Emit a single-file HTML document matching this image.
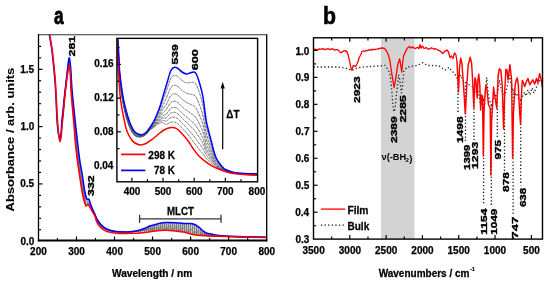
<!DOCTYPE html>
<html><head><meta charset="utf-8"><style>
html,body{margin:0;padding:0;background:#fff;}
svg{display:block;}
</style></head><body>
<svg width="550" height="284" viewBox="0 0 550 284">
<rect width="550" height="284" fill="#fff"/>
<defs><clipPath id="cm"><rect x="38.5" y="34.8" width="228.2" height="205.7"/></clipPath><clipPath id="ci"><rect x="116.9" y="38.35" width="140.70000000000002" height="143.45000000000002"/></clipPath><clipPath id="cb"><rect x="313.5" y="37.8" width="229.0" height="201.3"/></clipPath></defs>
<defs><pattern id="hv" width="2" height="2" patternUnits="userSpaceOnUse"><rect width="2" height="2" fill="#ececec"/><rect x="0" width="0.8" height="2" fill="#777"/></pattern></defs>
<path d="M138.00,230.54 L138.50,230.43 L139.00,230.30 L139.50,230.16 L140.00,230.01 L140.50,229.84 L141.00,229.67 L141.50,229.48 L142.00,229.29 L142.50,229.09 L143.00,228.89 L143.50,228.69 L144.00,228.50 L144.50,228.30 L145.00,228.10 L145.50,227.89 L146.00,227.68 L146.50,227.46 L147.00,227.24 L147.50,227.03 L148.00,226.81 L148.50,226.60 L149.00,226.40 L149.50,226.21 L150.00,226.03 L150.50,225.87 L151.00,225.71 L151.50,225.57 L152.00,225.44 L152.50,225.32 L153.00,225.19 L153.50,225.07 L154.00,224.94 L154.50,224.80 L155.00,224.65 L155.50,224.50 L156.00,224.33 L156.50,224.17 L157.00,224.01 L157.50,223.85 L158.00,223.70 L158.50,223.55 L159.00,223.42 L159.50,223.30 L160.00,223.20 L160.50,223.11 L161.00,223.03 L161.50,222.96 L162.00,222.89 L162.50,222.83 L163.00,222.78 L163.50,222.74 L164.00,222.71 L164.50,222.67 L165.00,222.65 L165.50,222.63 L166.00,222.61 L166.50,222.59 L167.00,222.58 L167.50,222.57 L168.00,222.56 L168.50,222.56 L169.00,222.56 L169.50,222.56 L170.00,222.56 L170.50,222.57 L171.00,222.58 L171.50,222.59 L172.00,222.60 L172.50,222.61 L173.00,222.62 L173.50,222.64 L174.00,222.66 L174.50,222.68 L175.00,222.70 L175.50,222.73 L176.00,222.76 L176.50,222.79 L177.00,222.83 L177.50,222.87 L178.00,222.91 L178.50,222.96 L179.00,223.00 L179.50,223.05 L180.00,223.10 L180.50,223.14 L181.00,223.19 L181.50,223.24 L182.00,223.28 L182.50,223.32 L183.00,223.36 L183.50,223.39 L184.00,223.42 L184.50,223.44 L185.00,223.46 L185.50,223.48 L186.00,223.49 L186.50,223.50 L187.00,223.51 L187.50,223.51 L188.00,223.52 L188.50,223.53 L189.00,223.55 L189.50,223.57 L190.00,223.60 L190.50,223.64 L191.00,223.68 L191.50,223.73 L192.00,223.78 L192.50,223.86 L193.00,223.94 L193.50,224.06 L194.00,224.20 L194.50,224.38 L195.00,224.60 L195.50,224.86 L196.00,225.16 L196.50,225.48 L197.00,225.80 L197.50,226.13 L198.00,226.47 L198.50,226.82 L199.00,227.20 L199.50,227.59 L200.00,228.00 L200.50,228.45 L201.00,228.94 L201.50,229.45 L202.00,229.94 L202.50,230.40 L203.00,230.80 L203.50,231.17 L204.00,231.52 L204.50,231.86 L205.00,232.17 L205.50,232.47 L206.00,232.74 L206.50,232.99 L207.00,233.20 L207.50,233.37 L208.00,233.49 L208.50,233.59 L209.00,233.66 L209.50,233.73 L210.00,233.79 L210.50,233.86 L211.00,233.94 L211.50,234.05 L212.00,234.17 L212.50,234.32 L213.00,234.46 L213.50,234.61 L214.00,234.76 L214.50,234.89 L215.00,235.00 L215.50,235.10 L216.00,235.21 L216.50,235.30 L217.00,235.38 L217.50,235.44 L218.00,235.50 L218.50,235.55 L219.00,235.59 L219.50,235.63 L220.00,235.68 L220.50,235.72 L221.00,235.75 L221.50,235.79 L222.00,235.83 L222.50,235.86 L223.00,235.90 L223.50,235.93 L224.00,235.97 L224.50,236.00 L225.00,236.03 L225.50,236.06 L226.00,236.09 L226.50,236.12 L227.00,236.15 L227.50,236.17 L228.00,236.20 L228.50,236.23 L229.00,236.25 L229.50,236.28 L230.00,236.30 L230.50,236.32 L231.00,236.34 L231.50,236.37 L232.00,236.39 L232.00,236.76 L231.50,236.74 L231.00,236.72 L230.50,236.71 L230.00,236.69 L229.50,236.67 L229.00,236.65 L228.50,236.64 L228.00,236.62 L227.50,236.60 L227.00,236.58 L226.50,236.57 L226.00,236.55 L225.50,236.53 L225.00,236.51 L224.50,236.49 L224.00,236.48 L223.50,236.46 L223.00,236.44 L222.50,236.42 L222.00,236.41 L221.50,236.39 L221.00,236.37 L220.50,236.35 L220.00,236.33 L219.50,236.32 L219.00,236.30 L218.50,236.28 L218.00,236.27 L217.50,236.25 L217.00,236.23 L216.50,236.22 L216.00,236.20 L215.50,236.19 L215.00,236.17 L214.50,236.16 L214.00,236.15 L213.50,236.13 L213.00,236.12 L212.50,236.10 L212.00,236.09 L211.50,236.07 L211.00,236.06 L210.50,236.04 L210.00,236.02 L209.50,236.01 L209.00,235.99 L208.50,235.97 L208.00,235.95 L207.50,235.93 L207.00,235.91 L206.50,235.88 L206.00,235.86 L205.50,235.83 L205.00,235.80 L204.50,235.77 L204.00,235.74 L203.50,235.71 L203.00,235.68 L202.50,235.65 L202.00,235.62 L201.50,235.59 L201.00,235.56 L200.50,235.53 L200.00,235.49 L199.50,235.45 L199.00,235.41 L198.50,235.37 L198.00,235.33 L197.50,235.28 L197.00,235.22 L196.50,235.16 L196.00,235.10 L195.50,235.03 L195.00,234.96 L194.50,234.88 L194.00,234.80 L193.50,234.71 L193.00,234.61 L192.50,234.50 L192.00,234.38 L191.50,234.25 L191.00,234.12 L190.50,233.99 L190.00,233.85 L189.50,233.70 L189.00,233.56 L188.50,233.41 L188.00,233.26 L187.50,233.12 L187.00,232.97 L186.50,232.83 L186.00,232.69 L185.50,232.55 L185.00,232.42 L184.50,232.30 L184.00,232.18 L183.50,232.08 L183.00,231.98 L182.50,231.89 L182.00,231.81 L181.50,231.73 L181.00,231.66 L180.50,231.59 L180.00,231.52 L179.50,231.46 L179.00,231.40 L178.50,231.35 L178.00,231.30 L177.50,231.25 L177.00,231.20 L176.50,231.15 L176.00,231.10 L175.50,231.05 L175.00,231.00 L174.50,230.95 L174.00,230.90 L173.50,230.85 L173.00,230.80 L172.50,230.75 L172.00,230.71 L171.50,230.66 L171.00,230.62 L170.50,230.57 L170.00,230.53 L169.50,230.49 L169.00,230.46 L168.50,230.42 L168.00,230.39 L167.50,230.36 L167.00,230.33 L166.50,230.31 L166.00,230.29 L165.50,230.28 L165.00,230.27 L164.50,230.26 L164.00,230.26 L163.50,230.27 L163.00,230.28 L162.50,230.30 L162.00,230.33 L161.50,230.37 L161.00,230.41 L160.50,230.45 L160.00,230.50 L159.50,230.55 L159.00,230.60 L158.50,230.66 L158.00,230.72 L157.50,230.78 L157.00,230.85 L156.50,230.91 L156.00,230.98 L155.50,231.05 L155.00,231.11 L154.50,231.18 L154.00,231.25 L153.50,231.32 L153.00,231.39 L152.50,231.46 L152.00,231.53 L151.50,231.60 L151.00,231.67 L150.50,231.73 L150.00,231.80 L149.50,231.87 L149.00,231.93 L148.50,232.01 L148.00,232.08 L147.50,232.15 L147.00,232.22 L146.50,232.30 L146.00,232.37 L145.50,232.45 L145.00,232.52 L144.50,232.59 L144.00,232.66 L143.50,232.73 L143.00,232.79 L142.50,232.85 L142.00,232.91 L141.50,232.96 L141.00,233.01 L140.50,233.06 L140.00,233.10 L139.50,233.13 L139.00,233.17 L138.50,233.19 L138.00,233.21 Z" fill="url(#hv)"/>
<g clip-path="url(#cm)" fill="none">
<path d="M62.00,120.97 L62.50,116.17 L63.00,111.66 L63.50,106.67 L64.00,101.53 L64.50,96.51 L65.00,91.83 L65.50,87.39 L66.00,83.05 L66.50,78.68 L67.00,74.27 L67.50,69.97 L68.00,66.00 L68.50,61.84 L69.00,58.84 L69.50,59.07 L70.00,62.10 L70.50,67.63 L71.00,75.68 L71.50,84.21 L72.00,91.71 L72.50,97.42 L73.00,102.19 L73.50,106.93 L74.00,111.89 L74.50,116.88 L75.00,121.88 L75.50,126.75 L76.00,131.43 L76.50,135.98 L77.00,140.37 L77.50,144.63 L78.00,148.86 L78.50,153.05 L79.00,157.06 L79.50,160.80 L80.00,164.18 L80.50,167.20 L81.00,170.04 L81.50,172.80 L82.00,175.62 L82.50,178.65 L83.00,182.00 L83.50,185.47 L84.00,188.78 L84.50,191.64 L85.00,194.05 L85.50,196.16 L86.00,197.91 L86.50,199.18 L87.00,199.88 L87.50,200.02 L88.00,199.87 L88.50,199.80 L89.00,200.19 L89.50,201.40 L90.00,203.08 L90.50,204.41 L91.00,205.70 L91.50,206.96 L92.00,208.19 L92.50,209.36 L93.00,210.48 L93.50,211.56 L94.00,212.63 L94.50,213.69 L95.00,214.77 L95.50,215.92 L96.00,217.18 L96.50,218.42 L97.00,219.51 L97.50,220.42 L98.00,221.21 L98.50,221.92 L99.00,222.57 L99.50,223.17 L100.00,223.75 L100.50,224.30 L101.00,224.85 L101.50,225.40 L102.00,225.92 L102.50,226.41 L103.00,226.85 L103.50,227.26 L104.00,227.61 L104.50,227.93 L105.00,228.23 L105.50,228.52 L106.00,228.78 L106.50,229.03 L107.00,229.26 L107.50,229.48 L108.00,229.67 L108.50,229.86 L109.00,230.03 L109.50,230.19 L110.00,230.34 L110.50,230.48 L111.00,230.61 L111.50,230.73 L112.00,230.85 L112.50,230.96 L113.00,231.06 L113.50,231.16 L114.00,231.25 L114.50,231.33 L115.00,231.41 L115.50,231.48 L116.00,231.55 L116.50,231.61 L117.00,231.67 L117.50,231.71 L118.00,231.75 L118.50,231.79 L119.00,231.82 L119.50,231.85 L120.00,231.87 L120.50,231.89 L121.00,231.90 L121.50,231.92 L122.00,231.93 L122.50,231.94 L123.00,231.94 L123.50,231.95 L124.00,231.96 L124.50,231.96 L125.00,231.97 L125.50,231.97 L126.00,231.96 L126.50,231.96 L127.00,231.94 L127.50,231.93 L128.00,231.90 L128.50,231.87 L129.00,231.84 L129.50,231.80 L130.00,231.75 L130.50,231.71 L131.00,231.66 L131.50,231.60 L132.00,231.55 L132.50,231.49 L133.00,231.43 L133.50,231.37 L134.00,231.30 L134.50,231.23 L135.00,231.16 L135.50,231.08 L136.00,231.01 L136.50,230.92 L137.00,230.83 L137.50,230.74 L138.00,230.63 L138.50,230.53 L139.00,230.41 L139.50,230.29 L140.00,230.15 L140.50,230.00 L141.00,229.84 L141.50,229.67 L142.00,229.50 L142.50,229.32 L143.00,229.14 L143.50,228.96 L144.00,228.79 L144.50,228.62 L145.00,228.43 L145.50,228.25 L146.00,228.06 L146.50,227.87 L147.00,227.68 L147.50,227.49 L148.00,227.30 L148.50,227.12 L149.00,226.95 L149.50,226.79 L150.00,226.64 L150.50,226.50 L151.00,226.38 L151.50,226.26 L152.00,226.16 L152.50,226.06 L153.00,225.96 L153.50,225.86 L154.00,225.75 L154.50,225.64 L155.00,225.52 L155.50,225.38 L156.00,225.23 L156.50,225.08 L157.00,224.93 L157.50,224.78 L158.00,224.64 L158.50,224.51 L159.00,224.39 L159.50,224.28 L160.00,224.19 L160.50,224.10 L161.00,224.03 L161.50,223.96 L162.00,223.90 L162.50,223.84 L163.00,223.80 L163.50,223.76 L164.00,223.73 L164.50,223.70 L165.00,223.68 L165.50,223.66 L166.00,223.64 L166.50,223.63 L167.00,223.63 L167.50,223.62 L168.00,223.62 L168.50,223.62 L169.00,223.63 L169.50,223.63 L170.00,223.64 L170.50,223.65 L171.00,223.66 L171.50,223.68 L172.00,223.69 L172.50,223.71 L173.00,223.73 L173.50,223.75 L174.00,223.77 L174.50,223.79 L175.00,223.82 L175.50,223.85 L176.00,223.88 L176.50,223.92 L177.00,223.96 L177.50,224.00 L178.00,224.04 L178.50,224.09 L179.00,224.14 L179.50,224.18 L180.00,224.23 L180.50,224.28 L181.00,224.33 L181.50,224.38 L182.00,224.43 L182.50,224.48 L183.00,224.52 L183.50,224.57 L184.00,224.61 L184.50,224.64 L185.00,224.67 L185.50,224.70 L186.00,224.73 L186.50,224.76 L187.00,224.78 L187.50,224.81 L188.00,224.84 L188.50,224.86 L189.00,224.90 L189.50,224.94 L190.00,224.98 L190.50,225.04 L191.00,225.09 L191.50,225.15 L192.00,225.21 L192.50,225.29 L193.00,225.38 L193.50,225.50 L194.00,225.63 L194.50,225.80 L195.00,226.00 L195.50,226.24 L196.00,226.50 L196.50,226.79 L197.00,227.07 L197.50,227.36 L198.00,227.66 L198.50,227.98 L199.00,228.31 L199.50,228.65 L200.00,229.01 L200.50,229.40 L201.00,229.83 L201.50,230.28 L202.00,230.71 L202.50,231.11 L203.00,231.46 L203.50,231.78 L204.00,232.09 L204.50,232.38 L205.00,232.66 L205.50,232.93 L206.00,233.16 L206.50,233.38 L207.00,233.57 L207.50,233.71 L208.00,233.82 L208.50,233.91 L209.00,233.98 L209.50,234.04 L210.00,234.09 L210.50,234.15 L211.00,234.22 L211.50,234.32 L212.00,234.43 L212.50,234.56 L213.00,234.69 L213.50,234.82 L214.00,234.94 L214.50,235.06 L215.00,235.16 L215.50,235.25 L216.00,235.34 L216.50,235.43 L217.00,235.49 L217.50,235.55 L218.00,235.60 L218.50,235.65 L219.00,235.69 L219.50,235.73 L220.00,235.76 L220.50,235.80 L221.00,235.84 L221.50,235.87 L222.00,235.91 L222.50,235.94 L223.00,235.97 L223.50,236.00 L224.00,236.03 L224.50,236.07 L225.00,236.09 L225.50,236.12 L226.00,236.15 L226.50,236.18 L227.00,236.21 L227.50,236.23 L228.00,236.26 L228.50,236.28 L229.00,236.31 L229.50,236.33 L230.00,236.35 L230.50,236.37 L231.00,236.40 L231.50,236.42 L232.00,236.44 L232.50,236.46 L233.00,236.48 L233.50,236.49 L234.00,236.51 L234.50,236.53 L235.00,236.55 L235.50,236.57 L236.00,236.58 L236.50,236.60 L237.00,236.62 L237.50,236.63 L238.00,236.65 L238.50,236.66 L239.00,236.68 L239.50,236.69 L240.00,236.71 L240.50,236.72 L241.00,236.73 L241.50,236.75 L242.00,236.76 L242.50,236.77 L243.00,236.79 L243.50,236.80 L244.00,236.81 L244.50,236.83 L245.00,236.84 L245.50,236.85 L246.00,236.86 L246.50,236.87 L247.00,236.88 L247.50,236.90 L248.00,236.91 L248.50,236.92 L249.00,236.93 L249.50,236.94 L250.00,236.95 L250.50,236.96 L251.00,236.97 L251.50,236.98 L252.00,236.99 L252.50,237.00 L253.00,237.01 L253.50,237.02 L254.00,237.03 L254.50,237.04 L255.00,237.05 L255.50,237.06 L256.00,237.06 L256.50,237.07 L257.00,237.08 L257.50,237.09 L258.00,237.10 L258.50,237.11 L259.00,237.12 L259.50,237.13 L260.00,237.14 L260.50,237.15 L261.00,237.15 L261.50,237.16 L262.00,237.17 L262.50,237.18 L263.00,237.19 L263.50,237.20 L264.00,237.21 L264.50,237.22 L265.00,237.23 L265.50,237.24 L266.00,237.24" stroke="#6d6d6d" stroke-width="0.7" stroke-dasharray="2 0.8"/>
<path d="M62.00,122.15 L62.50,117.11 L63.00,112.47 L63.50,107.49 L64.00,102.29 L64.50,97.19 L65.00,92.43 L65.50,87.94 L66.00,83.57 L66.50,79.23 L67.00,74.92 L67.50,70.78 L68.00,66.97 L68.50,63.04 L69.00,60.17 L69.50,60.47 L70.00,63.54 L70.50,69.61 L71.00,78.38 L71.50,86.60 L72.00,93.78 L72.50,99.49 L73.00,104.39 L73.50,109.27 L74.00,114.36 L74.50,119.59 L75.00,124.89 L75.50,129.98 L76.00,134.75 L76.50,139.29 L77.00,143.63 L77.50,147.81 L78.00,151.91 L78.50,155.94 L79.00,159.82 L79.50,163.48 L80.00,166.85 L80.50,169.95 L81.00,172.87 L81.50,175.71 L82.00,178.54 L82.50,181.50 L83.00,184.67 L83.50,187.90 L84.00,190.97 L84.50,193.61 L85.00,195.86 L85.50,197.81 L86.00,199.40 L86.50,200.44 L87.00,200.88 L87.50,200.92 L88.00,200.75 L88.50,200.76 L89.00,201.22 L89.50,202.36 L90.00,203.88 L90.50,205.13 L91.00,206.34 L91.50,207.54 L92.00,208.69 L92.50,209.80 L93.00,210.86 L93.50,211.90 L94.00,212.93 L94.50,213.97 L95.00,215.05 L95.50,216.25 L96.00,217.61 L96.50,218.94 L97.00,220.05 L97.50,220.94 L98.00,221.70 L98.50,222.38 L99.00,223.00 L99.50,223.58 L100.00,224.12 L100.50,224.64 L101.00,225.16 L101.50,225.67 L102.00,226.16 L102.50,226.61 L103.00,227.04 L103.50,227.41 L104.00,227.75 L104.50,228.05 L105.00,228.32 L105.50,228.61 L106.00,228.88 L106.50,229.13 L107.00,229.35 L107.50,229.56 L108.00,229.76 L108.50,229.94 L109.00,230.11 L109.50,230.27 L110.00,230.42 L110.50,230.55 L111.00,230.68 L111.50,230.80 L112.00,230.92 L112.50,231.03 L113.00,231.13 L113.50,231.22 L114.00,231.31 L114.50,231.40 L115.00,231.48 L115.50,231.55 L116.00,231.62 L116.50,231.68 L117.00,231.73 L117.50,231.78 L118.00,231.82 L118.50,231.85 L119.00,231.89 L119.50,231.91 L120.00,231.93 L120.50,231.95 L121.00,231.97 L121.50,231.98 L122.00,231.99 L122.50,232.00 L123.00,232.01 L123.50,232.02 L124.00,232.02 L124.50,232.03 L125.00,232.03 L125.50,232.03 L126.00,232.02 L126.50,232.02 L127.00,232.00 L127.50,231.99 L128.00,231.96 L128.50,231.93 L129.00,231.90 L129.50,231.86 L130.00,231.82 L130.50,231.77 L131.00,231.72 L131.50,231.67 L132.00,231.62 L132.50,231.57 L133.00,231.51 L133.50,231.45 L134.00,231.38 L134.50,231.32 L135.00,231.25 L135.50,231.18 L136.00,231.10 L136.50,231.02 L137.00,230.93 L137.50,230.84 L138.00,230.74 L138.50,230.65 L139.00,230.55 L139.50,230.44 L140.00,230.32 L140.50,230.19 L141.00,230.05 L141.50,229.90 L142.00,229.75 L142.50,229.59 L143.00,229.44 L143.50,229.29 L144.00,229.14 L144.50,228.99 L145.00,228.84 L145.50,228.68 L146.00,228.52 L146.50,228.36 L147.00,228.20 L147.50,228.05 L148.00,227.90 L148.50,227.75 L149.00,227.61 L149.50,227.49 L150.00,227.37 L150.50,227.27 L151.00,227.18 L151.50,227.09 L152.00,227.02 L152.50,226.95 L153.00,226.88 L153.50,226.81 L154.00,226.74 L154.50,226.66 L155.00,226.58 L155.50,226.45 L156.00,226.31 L156.50,226.18 L157.00,226.04 L157.50,225.91 L158.00,225.79 L158.50,225.67 L159.00,225.56 L159.50,225.46 L160.00,225.38 L160.50,225.30 L161.00,225.23 L161.50,225.17 L162.00,225.11 L162.50,225.06 L163.00,225.02 L163.50,224.98 L164.00,224.96 L164.50,224.94 L165.00,224.92 L165.50,224.91 L166.00,224.90 L166.50,224.89 L167.00,224.89 L167.50,224.89 L168.00,224.90 L168.50,224.90 L169.00,224.91 L169.50,224.92 L170.00,224.94 L170.50,224.95 L171.00,224.97 L171.50,224.99 L172.00,225.01 L172.50,225.04 L173.00,225.06 L173.50,225.09 L174.00,225.11 L174.50,225.14 L175.00,225.17 L175.50,225.21 L176.00,225.24 L176.50,225.28 L177.00,225.32 L177.50,225.36 L178.00,225.41 L178.50,225.46 L179.00,225.51 L179.50,225.56 L180.00,225.61 L180.50,225.66 L181.00,225.71 L181.50,225.77 L182.00,225.82 L182.50,225.88 L183.00,225.93 L183.50,225.98 L184.00,226.03 L184.50,226.08 L185.00,226.13 L185.50,226.18 L186.00,226.23 L186.50,226.28 L187.00,226.33 L187.50,226.37 L188.00,226.42 L188.50,226.48 L189.00,226.53 L189.50,226.59 L190.00,226.65 L190.50,226.72 L191.00,226.79 L191.50,226.87 L192.00,226.94 L192.50,227.03 L193.00,227.12 L193.50,227.23 L194.00,227.36 L194.50,227.51 L195.00,227.69 L195.50,227.90 L196.00,228.12 L196.50,228.37 L197.00,228.61 L197.50,228.85 L198.00,229.11 L198.50,229.37 L199.00,229.65 L199.50,229.93 L200.00,230.23 L200.50,230.56 L201.00,230.91 L201.50,231.28 L202.00,231.64 L202.50,231.97 L203.00,232.26 L203.50,232.52 L204.00,232.78 L204.50,233.02 L205.00,233.26 L205.50,233.47 L206.00,233.67 L206.50,233.85 L207.00,234.01 L207.50,234.13 L208.00,234.22 L208.50,234.30 L209.00,234.36 L209.50,234.41 L210.00,234.46 L210.50,234.51 L211.00,234.57 L211.50,234.65 L212.00,234.74 L212.50,234.85 L213.00,234.96 L213.50,235.07 L214.00,235.17 L214.50,235.27 L215.00,235.35 L215.50,235.43 L216.00,235.51 L216.50,235.58 L217.00,235.63 L217.50,235.68 L218.00,235.73 L218.50,235.77 L219.00,235.80 L219.50,235.84 L220.00,235.87 L220.50,235.91 L221.00,235.94 L221.50,235.97 L222.00,236.00 L222.50,236.03 L223.00,236.06 L223.50,236.09 L224.00,236.12 L224.50,236.15 L225.00,236.17 L225.50,236.20 L226.00,236.23 L226.50,236.25 L227.00,236.28 L227.50,236.30 L228.00,236.33 L228.50,236.35 L229.00,236.37 L229.50,236.39 L230.00,236.42 L230.50,236.44 L231.00,236.46 L231.50,236.48 L232.00,236.50 L232.50,236.52 L233.00,236.53 L233.50,236.55 L234.00,236.57 L234.50,236.59 L235.00,236.61 L235.50,236.62 L236.00,236.64 L236.50,236.66 L237.00,236.67 L237.50,236.69 L238.00,236.70 L238.50,236.72 L239.00,236.73 L239.50,236.75 L240.00,236.76 L240.50,236.78 L241.00,236.79 L241.50,236.80 L242.00,236.82 L242.50,236.83 L243.00,236.84 L243.50,236.85 L244.00,236.87 L244.50,236.88 L245.00,236.89 L245.50,236.90 L246.00,236.92 L246.50,236.93 L247.00,236.94 L247.50,236.95 L248.00,236.96 L248.50,236.97 L249.00,236.98 L249.50,236.99 L250.00,237.00 L250.50,237.01 L251.00,237.02 L251.50,237.03 L252.00,237.04 L252.50,237.05 L253.00,237.06 L253.50,237.07 L254.00,237.08 L254.50,237.09 L255.00,237.10 L255.50,237.11 L256.00,237.12 L256.50,237.13 L257.00,237.14 L257.50,237.15 L258.00,237.16 L258.50,237.17 L259.00,237.18 L259.50,237.19 L260.00,237.20 L260.50,237.21 L261.00,237.22 L261.50,237.23 L262.00,237.23 L262.50,237.24 L263.00,237.25 L263.50,237.26 L264.00,237.27 L264.50,237.28 L265.00,237.29 L265.50,237.30 L266.00,237.31" stroke="#6d6d6d" stroke-width="0.7" stroke-dasharray="2 0.8"/>
<path d="M62.00,123.16 L62.50,117.91 L63.00,113.16 L63.50,108.19 L64.00,102.95 L64.50,97.78 L65.00,92.95 L65.50,88.41 L66.00,84.02 L66.50,79.71 L67.00,75.49 L67.50,71.49 L68.00,67.81 L68.50,64.08 L69.00,61.32 L69.50,61.68 L70.00,64.78 L70.50,71.31 L71.00,80.71 L71.50,88.68 L72.00,95.57 L72.50,101.28 L73.00,106.29 L73.50,111.29 L74.00,116.49 L74.50,121.94 L75.00,127.49 L75.50,132.78 L76.00,137.62 L76.50,142.16 L77.00,146.45 L77.50,150.56 L78.00,154.55 L78.50,158.45 L79.00,162.21 L79.50,165.79 L80.00,169.17 L80.50,172.32 L81.00,175.32 L81.50,178.23 L82.00,181.07 L82.50,183.96 L83.00,186.99 L83.50,190.01 L84.00,192.86 L84.50,195.33 L85.00,197.43 L85.50,199.24 L86.00,200.69 L86.50,201.53 L87.00,201.74 L87.50,201.70 L88.00,201.51 L88.50,201.59 L89.00,202.11 L89.50,203.19 L90.00,204.58 L90.50,205.75 L91.00,206.90 L91.50,208.03 L92.00,209.12 L92.50,210.18 L93.00,211.19 L93.50,212.19 L94.00,213.19 L94.50,214.21 L95.00,215.29 L95.50,216.53 L96.00,217.99 L96.50,219.39 L97.00,220.51 L97.50,221.38 L98.00,222.12 L98.50,222.78 L99.00,223.38 L99.50,223.93 L100.00,224.45 L100.50,224.94 L101.00,225.42 L101.50,225.90 L102.00,226.36 L102.50,226.79 L103.00,227.19 L103.50,227.55 L104.00,227.87 L104.50,228.15 L105.00,228.41 L105.50,228.69 L106.00,228.96 L106.50,229.21 L107.00,229.43 L107.50,229.64 L108.00,229.83 L108.50,230.01 L109.00,230.18 L109.50,230.33 L110.00,230.48 L110.50,230.62 L111.00,230.74 L111.50,230.86 L112.00,230.98 L112.50,231.08 L113.00,231.18 L113.50,231.28 L114.00,231.37 L114.50,231.45 L115.00,231.53 L115.50,231.60 L116.00,231.67 L116.50,231.73 L117.00,231.79 L117.50,231.83 L118.00,231.88 L118.50,231.91 L119.00,231.94 L119.50,231.97 L120.00,231.99 L120.50,232.01 L121.00,232.03 L121.50,232.04 L122.00,232.05 L122.50,232.06 L123.00,232.07 L123.50,232.07 L124.00,232.08 L124.50,232.08 L125.00,232.08 L125.50,232.08 L126.00,232.08 L126.50,232.07 L127.00,232.06 L127.50,232.04 L128.00,232.02 L128.50,231.99 L129.00,231.95 L129.50,231.92 L130.00,231.88 L130.50,231.83 L131.00,231.78 L131.50,231.74 L132.00,231.68 L132.50,231.63 L133.00,231.57 L133.50,231.52 L134.00,231.46 L134.50,231.39 L135.00,231.33 L135.50,231.26 L136.00,231.18 L136.50,231.11 L137.00,231.02 L137.50,230.93 L138.00,230.84 L138.50,230.76 L139.00,230.67 L139.50,230.57 L140.00,230.47 L140.50,230.35 L141.00,230.23 L141.50,230.10 L142.00,229.97 L142.50,229.83 L143.00,229.70 L143.50,229.57 L144.00,229.44 L144.50,229.31 L145.00,229.19 L145.50,229.05 L146.00,228.92 L146.50,228.79 L147.00,228.66 L147.50,228.53 L148.00,228.41 L148.50,228.29 L149.00,228.19 L149.50,228.09 L150.00,228.00 L150.50,227.93 L151.00,227.87 L151.50,227.81 L152.00,227.76 L152.50,227.72 L153.00,227.67 L153.50,227.63 L154.00,227.59 L154.50,227.54 L155.00,227.49 L155.50,227.37 L156.00,227.25 L156.50,227.13 L157.00,227.01 L157.50,226.89 L158.00,226.78 L158.50,226.67 L159.00,226.57 L159.50,226.48 L160.00,226.40 L160.50,226.33 L161.00,226.27 L161.50,226.21 L162.00,226.16 L162.50,226.11 L163.00,226.08 L163.50,226.04 L164.00,226.02 L164.50,226.00 L165.00,225.99 L165.50,225.99 L166.00,225.98 L166.50,225.98 L167.00,225.98 L167.50,225.99 L168.00,226.00 L168.50,226.01 L169.00,226.03 L169.50,226.04 L170.00,226.06 L170.50,226.08 L171.00,226.11 L171.50,226.13 L172.00,226.16 L172.50,226.18 L173.00,226.21 L173.50,226.24 L174.00,226.28 L174.50,226.31 L175.00,226.34 L175.50,226.38 L176.00,226.42 L176.50,226.46 L177.00,226.50 L177.50,226.55 L178.00,226.59 L178.50,226.64 L179.00,226.69 L179.50,226.74 L180.00,226.79 L180.50,226.85 L181.00,226.91 L181.50,226.96 L182.00,227.02 L182.50,227.09 L183.00,227.15 L183.50,227.21 L184.00,227.27 L184.50,227.33 L185.00,227.40 L185.50,227.46 L186.00,227.53 L186.50,227.59 L187.00,227.66 L187.50,227.73 L188.00,227.80 L188.50,227.87 L189.00,227.94 L189.50,228.02 L190.00,228.10 L190.50,228.18 L191.00,228.27 L191.50,228.35 L192.00,228.44 L192.50,228.53 L193.00,228.63 L193.50,228.73 L194.00,228.85 L194.50,228.99 L195.00,229.15 L195.50,229.33 L196.00,229.53 L196.50,229.73 L197.00,229.94 L197.50,230.14 L198.00,230.36 L198.50,230.58 L199.00,230.81 L199.50,231.04 L200.00,231.29 L200.50,231.56 L201.00,231.85 L201.50,232.15 L202.00,232.44 L202.50,232.71 L203.00,232.94 L203.50,233.16 L204.00,233.37 L204.50,233.57 L205.00,233.77 L205.50,233.95 L206.00,234.11 L206.50,234.26 L207.00,234.39 L207.50,234.49 L208.00,234.57 L208.50,234.63 L209.00,234.69 L209.50,234.73 L210.00,234.77 L210.50,234.82 L211.00,234.87 L211.50,234.94 L212.00,235.01 L212.50,235.10 L213.00,235.19 L213.50,235.28 L214.00,235.37 L214.50,235.45 L215.00,235.52 L215.50,235.58 L216.00,235.65 L216.50,235.70 L217.00,235.75 L217.50,235.80 L218.00,235.83 L218.50,235.87 L219.00,235.90 L219.50,235.93 L220.00,235.96 L220.50,235.99 L221.00,236.02 L221.50,236.05 L222.00,236.08 L222.50,236.11 L223.00,236.14 L223.50,236.16 L224.00,236.19 L224.50,236.22 L225.00,236.24 L225.50,236.27 L226.00,236.29 L226.50,236.32 L227.00,236.34 L227.50,236.36 L228.00,236.38 L228.50,236.41 L229.00,236.43 L229.50,236.45 L230.00,236.47 L230.50,236.49 L231.00,236.51 L231.50,236.53 L232.00,236.55 L232.50,236.57 L233.00,236.59 L233.50,236.60 L234.00,236.62 L234.50,236.64 L235.00,236.66 L235.50,236.67 L236.00,236.69 L236.50,236.70 L237.00,236.72 L237.50,236.74 L238.00,236.75 L238.50,236.77 L239.00,236.78 L239.50,236.79 L240.00,236.81 L240.50,236.82 L241.00,236.84 L241.50,236.85 L242.00,236.86 L242.50,236.88 L243.00,236.89 L243.50,236.90 L244.00,236.91 L244.50,236.93 L245.00,236.94 L245.50,236.95 L246.00,236.96 L246.50,236.98 L247.00,236.99 L247.50,237.00 L248.00,237.01 L248.50,237.02 L249.00,237.03 L249.50,237.04 L250.00,237.05 L250.50,237.06 L251.00,237.07 L251.50,237.08 L252.00,237.09 L252.50,237.10 L253.00,237.11 L253.50,237.12 L254.00,237.13 L254.50,237.14 L255.00,237.15 L255.50,237.16 L256.00,237.17 L256.50,237.18 L257.00,237.19 L257.50,237.20 L258.00,237.21 L258.50,237.22 L259.00,237.23 L259.50,237.24 L260.00,237.25 L260.50,237.26 L261.00,237.27 L261.50,237.28 L262.00,237.29 L262.50,237.30 L263.00,237.31 L263.50,237.32 L264.00,237.33 L264.50,237.34 L265.00,237.35 L265.50,237.36 L266.00,237.37" stroke="#6d6d6d" stroke-width="0.7" stroke-dasharray="2 0.8"/>
<path d="M62.00,124.04 L62.50,118.61 L63.00,113.76 L63.50,108.80 L64.00,103.52 L64.50,98.29 L65.00,93.39 L65.50,88.82 L66.00,84.41 L66.50,80.12 L67.00,75.98 L67.50,72.10 L68.00,68.54 L68.50,64.98 L69.00,62.31 L69.50,62.73 L70.00,65.85 L70.50,72.79 L71.00,82.73 L71.50,90.47 L72.00,97.12 L72.50,102.83 L73.00,107.94 L73.50,113.04 L74.00,118.34 L74.50,123.97 L75.00,129.74 L75.50,135.20 L76.00,140.11 L76.50,144.64 L77.00,148.89 L77.50,152.94 L78.00,156.83 L78.50,160.61 L79.00,164.27 L79.50,167.79 L80.00,171.17 L80.50,174.37 L81.00,177.45 L81.50,180.40 L82.00,183.25 L82.50,186.10 L83.00,188.99 L83.50,191.84 L84.00,194.49 L84.50,196.81 L85.00,198.78 L85.50,200.48 L86.00,201.81 L86.50,202.47 L87.00,202.49 L87.50,202.37 L88.00,202.17 L88.50,202.31 L89.00,202.88 L89.50,203.91 L90.00,205.18 L90.50,206.29 L91.00,207.38 L91.50,208.46 L92.00,209.50 L92.50,210.50 L93.00,211.48 L93.50,212.44 L94.00,213.42 L94.50,214.42 L95.00,215.49 L95.50,216.77 L96.00,218.32 L96.50,219.78 L97.00,220.91 L97.50,221.76 L98.00,222.49 L98.50,223.12 L99.00,223.71 L99.50,224.24 L100.00,224.73 L100.50,225.20 L101.00,225.65 L101.50,226.10 L102.00,226.54 L102.50,226.95 L103.00,227.33 L103.50,227.67 L104.00,227.97 L104.50,228.24 L105.00,228.48 L105.50,228.76 L106.00,229.03 L106.50,229.27 L107.00,229.50 L107.50,229.70 L108.00,229.90 L108.50,230.07 L109.00,230.24 L109.50,230.39 L110.00,230.54 L110.50,230.67 L111.00,230.80 L111.50,230.92 L112.00,231.03 L112.50,231.13 L113.00,231.23 L113.50,231.33 L114.00,231.42 L114.50,231.50 L115.00,231.58 L115.50,231.65 L116.00,231.72 L116.50,231.78 L117.00,231.83 L117.50,231.88 L118.00,231.92 L118.50,231.96 L119.00,231.99 L119.50,232.02 L120.00,232.04 L120.50,232.06 L121.00,232.08 L121.50,232.09 L122.00,232.10 L122.50,232.11 L123.00,232.11 L123.50,232.12 L124.00,232.13 L124.50,232.13 L125.00,232.13 L125.50,232.13 L126.00,232.12 L126.50,232.12 L127.00,232.10 L127.50,232.08 L128.00,232.06 L128.50,232.03 L129.00,232.00 L129.50,231.96 L130.00,231.92 L130.50,231.88 L131.00,231.84 L131.50,231.79 L132.00,231.74 L132.50,231.69 L133.00,231.63 L133.50,231.58 L134.00,231.52 L134.50,231.46 L135.00,231.39 L135.50,231.33 L136.00,231.25 L136.50,231.18 L137.00,231.10 L137.50,231.01 L138.00,230.92 L138.50,230.85 L139.00,230.77 L139.50,230.69 L140.00,230.59 L140.50,230.49 L141.00,230.38 L141.50,230.27 L142.00,230.15 L142.50,230.04 L143.00,229.92 L143.50,229.81 L144.00,229.70 L144.50,229.60 L145.00,229.49 L145.50,229.38 L146.00,229.27 L146.50,229.16 L147.00,229.05 L147.50,228.95 L148.00,228.85 L148.50,228.76 L149.00,228.68 L149.50,228.61 L150.00,228.55 L150.50,228.50 L151.00,228.46 L151.50,228.43 L152.00,228.41 L152.50,228.38 L153.00,228.36 L153.50,228.34 L154.00,228.32 L154.50,228.30 L155.00,228.28 L155.50,228.17 L156.00,228.06 L156.50,227.95 L157.00,227.84 L157.50,227.74 L158.00,227.64 L158.50,227.54 L159.00,227.45 L159.50,227.37 L160.00,227.30 L160.50,227.23 L161.00,227.17 L161.50,227.12 L162.00,227.07 L162.50,227.02 L163.00,226.99 L163.50,226.96 L164.00,226.94 L164.50,226.93 L165.00,226.92 L165.50,226.92 L166.00,226.92 L166.50,226.92 L167.00,226.93 L167.50,226.94 L168.00,226.95 L168.50,226.97 L169.00,226.99 L169.50,227.01 L170.00,227.03 L170.50,227.06 L171.00,227.09 L171.50,227.12 L172.00,227.15 L172.50,227.18 L173.00,227.21 L173.50,227.24 L174.00,227.28 L174.50,227.32 L175.00,227.36 L175.50,227.40 L176.00,227.44 L176.50,227.48 L177.00,227.52 L177.50,227.57 L178.00,227.62 L178.50,227.66 L179.00,227.71 L179.50,227.77 L180.00,227.82 L180.50,227.88 L181.00,227.94 L181.50,228.00 L182.00,228.07 L182.50,228.13 L183.00,228.20 L183.50,228.27 L184.00,228.34 L184.50,228.41 L185.00,228.49 L185.50,228.57 L186.00,228.65 L186.50,228.73 L187.00,228.82 L187.50,228.90 L188.00,228.99 L188.50,229.07 L189.00,229.16 L189.50,229.25 L190.00,229.35 L190.50,229.44 L191.00,229.54 L191.50,229.63 L192.00,229.73 L192.50,229.82 L193.00,229.93 L193.50,230.03 L194.00,230.15 L194.50,230.27 L195.00,230.41 L195.50,230.57 L196.00,230.74 L196.50,230.91 L197.00,231.09 L197.50,231.26 L198.00,231.44 L198.50,231.62 L199.00,231.81 L199.50,232.00 L200.00,232.20 L200.50,232.42 L201.00,232.65 L201.50,232.90 L202.00,233.13 L202.50,233.35 L203.00,233.54 L203.50,233.72 L204.00,233.89 L204.50,234.05 L205.00,234.21 L205.50,234.36 L206.00,234.49 L206.50,234.61 L207.00,234.72 L207.50,234.80 L208.00,234.87 L208.50,234.92 L209.00,234.97 L209.50,235.01 L210.00,235.04 L210.50,235.08 L211.00,235.13 L211.50,235.18 L212.00,235.25 L212.50,235.32 L213.00,235.39 L213.50,235.46 L214.00,235.54 L214.50,235.60 L215.00,235.66 L215.50,235.71 L216.00,235.77 L216.50,235.82 L217.00,235.86 L217.50,235.90 L218.00,235.93 L218.50,235.96 L219.00,235.99 L219.50,236.02 L220.00,236.05 L220.50,236.07 L221.00,236.10 L221.50,236.13 L222.00,236.15 L222.50,236.18 L223.00,236.20 L223.50,236.23 L224.00,236.25 L224.50,236.28 L225.00,236.30 L225.50,236.32 L226.00,236.35 L226.50,236.37 L227.00,236.39 L227.50,236.41 L228.00,236.44 L228.50,236.46 L229.00,236.48 L229.50,236.50 L230.00,236.52 L230.50,236.54 L231.00,236.56 L231.50,236.58 L232.00,236.59 L232.50,236.61 L233.00,236.63 L233.50,236.65 L234.00,236.66 L234.50,236.68 L235.00,236.70 L235.50,236.71 L236.00,236.73 L236.50,236.75 L237.00,236.76 L237.50,236.78 L238.00,236.79 L238.50,236.81 L239.00,236.82 L239.50,236.84 L240.00,236.85 L240.50,236.86 L241.00,236.88 L241.50,236.89 L242.00,236.90 L242.50,236.92 L243.00,236.93 L243.50,236.94 L244.00,236.96 L244.50,236.97 L245.00,236.98 L245.50,236.99 L246.00,237.00 L246.50,237.02 L247.00,237.03 L247.50,237.04 L248.00,237.05 L248.50,237.06 L249.00,237.07 L249.50,237.08 L250.00,237.09 L250.50,237.10 L251.00,237.11 L251.50,237.13 L252.00,237.14 L252.50,237.15 L253.00,237.16 L253.50,237.17 L254.00,237.18 L254.50,237.19 L255.00,237.20 L255.50,237.21 L256.00,237.22 L256.50,237.23 L257.00,237.24 L257.50,237.25 L258.00,237.26 L258.50,237.27 L259.00,237.28 L259.50,237.29 L260.00,237.30 L260.50,237.31 L261.00,237.32 L261.50,237.33 L262.00,237.34 L262.50,237.34 L263.00,237.35 L263.50,237.36 L264.00,237.37 L264.50,237.38 L265.00,237.39 L265.50,237.40 L266.00,237.41" stroke="#6d6d6d" stroke-width="0.7" stroke-dasharray="2 0.8"/>
<path d="M62.00,124.78 L62.50,119.20 L63.00,114.26 L63.50,109.31 L64.00,104.00 L64.50,98.72 L65.00,93.77 L65.50,89.16 L66.00,84.73 L66.50,80.46 L67.00,76.39 L67.50,72.60 L68.00,69.15 L68.50,65.73 L69.00,63.15 L69.50,63.61 L70.00,66.75 L70.50,74.02 L71.00,84.42 L71.50,91.97 L72.00,98.42 L72.50,104.12 L73.00,109.32 L73.50,114.50 L74.00,119.89 L74.50,125.66 L75.00,131.62 L75.50,137.23 L76.00,142.18 L76.50,146.71 L77.00,150.93 L77.50,154.93 L78.00,158.74 L78.50,162.43 L79.00,166.00 L79.50,169.47 L80.00,172.84 L80.50,176.09 L81.00,179.22 L81.50,182.22 L82.00,185.08 L82.50,187.88 L83.00,190.66 L83.50,193.36 L84.00,195.86 L84.50,198.04 L85.00,199.91 L85.50,201.52 L86.00,202.74 L86.50,203.25 L87.00,203.12 L87.50,202.93 L88.00,202.72 L88.50,202.91 L89.00,203.53 L89.50,204.51 L90.00,205.68 L90.50,206.74 L91.00,207.79 L91.50,208.82 L92.00,209.81 L92.50,210.78 L93.00,211.72 L93.50,212.65 L94.00,213.60 L94.50,214.59 L95.00,215.66 L95.50,216.98 L96.00,218.59 L96.50,220.11 L97.00,221.25 L97.50,222.09 L98.00,222.79 L98.50,223.41 L99.00,223.98 L99.50,224.50 L100.00,224.97 L100.50,225.41 L101.00,225.85 L101.50,226.27 L102.00,226.69 L102.50,227.08 L103.00,227.44 L103.50,227.77 L104.00,228.06 L104.50,228.31 L105.00,228.54 L105.50,228.82 L106.00,229.09 L106.50,229.33 L107.00,229.55 L107.50,229.76 L108.00,229.95 L108.50,230.12 L109.00,230.29 L109.50,230.44 L110.00,230.58 L110.50,230.71 L111.00,230.84 L111.50,230.96 L112.00,231.07 L112.50,231.18 L113.00,231.28 L113.50,231.37 L114.00,231.46 L114.50,231.54 L115.00,231.62 L115.50,231.69 L116.00,231.76 L116.50,231.82 L117.00,231.87 L117.50,231.92 L118.00,231.96 L118.50,232.00 L119.00,232.03 L119.50,232.06 L120.00,232.08 L120.50,232.10 L121.00,232.12 L121.50,232.13 L122.00,232.14 L122.50,232.15 L123.00,232.16 L123.50,232.16 L124.00,232.17 L124.50,232.17 L125.00,232.17 L125.50,232.17 L126.00,232.16 L126.50,232.15 L127.00,232.14 L127.50,232.12 L128.00,232.10 L128.50,232.07 L129.00,232.04 L129.50,232.00 L130.00,231.97 L130.50,231.92 L131.00,231.88 L131.50,231.83 L132.00,231.78 L132.50,231.73 L133.00,231.68 L133.50,231.63 L134.00,231.57 L134.50,231.51 L135.00,231.45 L135.50,231.38 L136.00,231.31 L136.50,231.24 L137.00,231.16 L137.50,231.08 L138.00,230.99 L138.50,230.93 L139.00,230.86 L139.50,230.78 L140.00,230.70 L140.50,230.61 L141.00,230.52 L141.50,230.41 L142.00,230.31 L142.50,230.21 L143.00,230.11 L143.50,230.01 L144.00,229.92 L144.50,229.83 L145.00,229.74 L145.50,229.65 L146.00,229.55 L146.50,229.47 L147.00,229.38 L147.50,229.30 L148.00,229.22 L148.50,229.16 L149.00,229.10 L149.50,229.05 L150.00,229.01 L150.50,228.98 L151.00,228.96 L151.50,228.95 L152.00,228.94 L152.50,228.94 L153.00,228.94 L153.50,228.94 L154.00,228.94 L154.50,228.94 L155.00,228.94 L155.50,228.84 L156.00,228.74 L156.50,228.64 L157.00,228.54 L157.50,228.44 L158.00,228.35 L158.50,228.26 L159.00,228.18 L159.50,228.11 L160.00,228.04 L160.50,227.98 L161.00,227.92 L161.50,227.87 L162.00,227.83 L162.50,227.79 L163.00,227.75 L163.50,227.73 L164.00,227.71 L164.50,227.70 L165.00,227.70 L165.50,227.70 L166.00,227.70 L166.50,227.71 L167.00,227.72 L167.50,227.73 L168.00,227.75 L168.50,227.77 L169.00,227.79 L169.50,227.82 L170.00,227.85 L170.50,227.88 L171.00,227.91 L171.50,227.94 L172.00,227.97 L172.50,228.01 L173.00,228.04 L173.50,228.08 L174.00,228.12 L174.50,228.16 L175.00,228.20 L175.50,228.25 L176.00,228.29 L176.50,228.33 L177.00,228.38 L177.50,228.42 L178.00,228.47 L178.50,228.52 L179.00,228.57 L179.50,228.63 L180.00,228.68 L180.50,228.74 L181.00,228.80 L181.50,228.87 L182.00,228.94 L182.50,229.01 L183.00,229.08 L183.50,229.15 L184.00,229.23 L184.50,229.31 L185.00,229.40 L185.50,229.49 L186.00,229.59 L186.50,229.68 L187.00,229.78 L187.50,229.88 L188.00,229.98 L188.50,230.08 L189.00,230.18 L189.50,230.29 L190.00,230.39 L190.50,230.50 L191.00,230.60 L191.50,230.71 L192.00,230.81 L192.50,230.91 L193.00,231.01 L193.50,231.12 L194.00,231.23 L194.50,231.34 L195.00,231.47 L195.50,231.61 L196.00,231.75 L196.50,231.90 L197.00,232.05 L197.50,232.19 L198.00,232.34 L198.50,232.49 L199.00,232.65 L199.50,232.80 L200.00,232.97 L200.50,233.14 L201.00,233.33 L201.50,233.52 L202.00,233.71 L202.50,233.88 L203.00,234.04 L203.50,234.18 L204.00,234.32 L204.50,234.45 L205.00,234.58 L205.50,234.70 L206.00,234.81 L206.50,234.91 L207.00,234.99 L207.50,235.07 L208.00,235.12 L208.50,235.17 L209.00,235.21 L209.50,235.24 L210.00,235.27 L210.50,235.31 L211.00,235.34 L211.50,235.39 L212.00,235.44 L212.50,235.50 L213.00,235.56 L213.50,235.62 L214.00,235.68 L214.50,235.73 L215.00,235.78 L215.50,235.82 L216.00,235.87 L216.50,235.91 L217.00,235.95 L217.50,235.98 L218.00,236.01 L218.50,236.03 L219.00,236.06 L219.50,236.09 L220.00,236.11 L220.50,236.14 L221.00,236.16 L221.50,236.19 L222.00,236.21 L222.50,236.23 L223.00,236.26 L223.50,236.28 L224.00,236.30 L224.50,236.33 L225.00,236.35 L225.50,236.37 L226.00,236.39 L226.50,236.42 L227.00,236.44 L227.50,236.46 L228.00,236.48 L228.50,236.50 L229.00,236.52 L229.50,236.54 L230.00,236.56 L230.50,236.58 L231.00,236.59 L231.50,236.61 L232.00,236.63 L232.50,236.65 L233.00,236.67 L233.50,236.68 L234.00,236.70 L234.50,236.72 L235.00,236.73 L235.50,236.75 L236.00,236.77 L236.50,236.78 L237.00,236.80 L237.50,236.81 L238.00,236.83 L238.50,236.84 L239.00,236.86 L239.50,236.87 L240.00,236.89 L240.50,236.90 L241.00,236.91 L241.50,236.93 L242.00,236.94 L242.50,236.95 L243.00,236.96 L243.50,236.98 L244.00,236.99 L244.50,237.00 L245.00,237.01 L245.50,237.03 L246.00,237.04 L246.50,237.05 L247.00,237.06 L247.50,237.07 L248.00,237.08 L248.50,237.10 L249.00,237.11 L249.50,237.12 L250.00,237.13 L250.50,237.14 L251.00,237.15 L251.50,237.16 L252.00,237.17 L252.50,237.18 L253.00,237.19 L253.50,237.20 L254.00,237.21 L254.50,237.22 L255.00,237.23 L255.50,237.24 L256.00,237.25 L256.50,237.26 L257.00,237.27 L257.50,237.28 L258.00,237.29 L258.50,237.30 L259.00,237.31 L259.50,237.32 L260.00,237.33 L260.50,237.34 L261.00,237.35 L261.50,237.36 L262.00,237.37 L262.50,237.38 L263.00,237.39 L263.50,237.40 L264.00,237.41 L264.50,237.42 L265.00,237.43 L265.50,237.44 L266.00,237.45" stroke="#6d6d6d" stroke-width="0.7" stroke-dasharray="2 0.8"/>
<path d="M62.00,125.37 L62.50,119.67 L63.00,114.66 L63.50,109.72 L64.00,104.38 L64.50,99.06 L65.00,94.07 L65.50,89.43 L66.00,84.99 L66.50,80.74 L67.00,76.72 L67.50,73.01 L68.00,69.64 L68.50,66.33 L69.00,63.82 L69.50,64.31 L70.00,67.47 L70.50,75.01 L71.00,85.78 L71.50,93.17 L72.00,99.46 L72.50,105.17 L73.00,110.43 L73.50,115.68 L74.00,121.13 L74.50,127.03 L75.00,133.14 L75.50,138.85 L76.00,143.85 L76.50,148.38 L77.00,152.57 L77.50,156.53 L78.00,160.28 L78.50,163.88 L79.00,167.39 L79.50,170.81 L80.00,174.19 L80.50,177.47 L81.00,180.65 L81.50,183.68 L82.00,186.55 L82.50,189.31 L83.00,192.01 L83.50,194.59 L84.00,196.96 L84.50,199.04 L85.00,200.83 L85.50,202.35 L86.00,203.49 L86.50,203.89 L87.00,203.62 L87.50,203.39 L88.00,203.16 L88.50,203.39 L89.00,204.05 L89.50,205.00 L90.00,206.09 L90.50,207.10 L91.00,208.11 L91.50,209.11 L92.00,210.07 L92.50,211.00 L93.00,211.91 L93.50,212.82 L94.00,213.76 L94.50,214.73 L95.00,215.80 L95.50,217.14 L96.00,218.81 L96.50,220.37 L97.00,221.52 L97.50,222.34 L98.00,223.04 L98.50,223.65 L99.00,224.20 L99.50,224.70 L100.00,225.16 L100.50,225.59 L101.00,226.00 L101.50,226.41 L102.00,226.81 L102.50,227.18 L103.00,227.53 L103.50,227.85 L104.00,228.12 L104.50,228.37 L105.00,228.59 L105.50,228.87 L106.00,229.13 L106.50,229.38 L107.00,229.60 L107.50,229.80 L108.00,229.99 L108.50,230.16 L109.00,230.33 L109.50,230.48 L110.00,230.62 L110.50,230.75 L111.00,230.88 L111.50,230.99 L112.00,231.10 L112.50,231.21 L113.00,231.31 L113.50,231.40 L114.00,231.49 L114.50,231.57 L115.00,231.65 L115.50,231.72 L116.00,231.79 L116.50,231.85 L117.00,231.91 L117.50,231.96 L118.00,232.00 L118.50,232.03 L119.00,232.07 L119.50,232.09 L120.00,232.12 L120.50,232.14 L121.00,232.15 L121.50,232.16 L122.00,232.17 L122.50,232.18 L123.00,232.19 L123.50,232.19 L124.00,232.20 L124.50,232.20 L125.00,232.20 L125.50,232.20 L126.00,232.19 L126.50,232.18 L127.00,232.17 L127.50,232.15 L128.00,232.13 L128.50,232.10 L129.00,232.07 L129.50,232.04 L130.00,232.00 L130.50,231.96 L131.00,231.91 L131.50,231.87 L132.00,231.82 L132.50,231.77 L133.00,231.72 L133.50,231.67 L134.00,231.61 L134.50,231.56 L135.00,231.49 L135.50,231.43 L136.00,231.36 L136.50,231.29 L137.00,231.21 L137.50,231.13 L138.00,231.04 L138.50,230.99 L139.00,230.93 L139.50,230.86 L140.00,230.79 L140.50,230.71 L141.00,230.62 L141.50,230.53 L142.00,230.44 L142.50,230.35 L143.00,230.26 L143.50,230.17 L144.00,230.09 L144.50,230.02 L145.00,229.94 L145.50,229.86 L146.00,229.79 L146.50,229.71 L147.00,229.64 L147.50,229.58 L148.00,229.52 L148.50,229.47 L149.00,229.43 L149.50,229.40 L150.00,229.38 L150.50,229.37 L151.00,229.37 L151.50,229.37 L152.00,229.38 L152.50,229.39 L153.00,229.40 L153.50,229.42 L154.00,229.43 L154.50,229.45 L155.00,229.47 L155.50,229.38 L156.00,229.28 L156.50,229.19 L157.00,229.10 L157.50,229.01 L158.00,228.93 L158.50,228.85 L159.00,228.77 L159.50,228.70 L160.00,228.64 L160.50,228.58 L161.00,228.53 L161.50,228.48 L162.00,228.44 L162.50,228.40 L163.00,228.37 L163.50,228.35 L164.00,228.33 L164.50,228.33 L165.00,228.32 L165.50,228.33 L166.00,228.33 L166.50,228.34 L167.00,228.36 L167.50,228.37 L168.00,228.39 L168.50,228.42 L169.00,228.44 L169.50,228.47 L170.00,228.50 L170.50,228.53 L171.00,228.57 L171.50,228.60 L172.00,228.64 L172.50,228.68 L173.00,228.71 L173.50,228.76 L174.00,228.80 L174.50,228.84 L175.00,228.88 L175.50,228.93 L176.00,228.97 L176.50,229.02 L177.00,229.06 L177.50,229.11 L178.00,229.16 L178.50,229.21 L179.00,229.26 L179.50,229.32 L180.00,229.37 L180.50,229.43 L181.00,229.50 L181.50,229.56 L182.00,229.63 L182.50,229.71 L183.00,229.79 L183.50,229.87 L184.00,229.95 L184.50,230.04 L185.00,230.14 L185.50,230.24 L186.00,230.34 L186.50,230.45 L187.00,230.56 L187.50,230.67 L188.00,230.78 L188.50,230.89 L189.00,231.01 L189.50,231.12 L190.00,231.23 L190.50,231.35 L191.00,231.46 L191.50,231.57 L192.00,231.68 L192.50,231.78 L193.00,231.89 L193.50,231.99 L194.00,232.10 L194.50,232.20 L195.00,232.32 L195.50,232.44 L196.00,232.57 L196.50,232.69 L197.00,232.82 L197.50,232.94 L198.00,233.07 L198.50,233.19 L199.00,233.32 L199.50,233.45 L200.00,233.58 L200.50,233.72 L201.00,233.87 L201.50,234.03 L202.00,234.18 L202.50,234.31 L203.00,234.44 L203.50,234.55 L204.00,234.66 L204.50,234.77 L205.00,234.88 L205.50,234.97 L206.00,235.06 L206.50,235.14 L207.00,235.22 L207.50,235.28 L208.00,235.32 L208.50,235.36 L209.00,235.40 L209.50,235.43 L210.00,235.45 L210.50,235.48 L211.00,235.52 L211.50,235.56 L212.00,235.60 L212.50,235.65 L213.00,235.70 L213.50,235.74 L214.00,235.79 L214.50,235.84 L215.00,235.87 L215.50,235.91 L216.00,235.95 L216.50,235.99 L217.00,236.02 L217.50,236.04 L218.00,236.07 L218.50,236.10 L219.00,236.12 L219.50,236.14 L220.00,236.17 L220.50,236.19 L221.00,236.21 L221.50,236.24 L222.00,236.26 L222.50,236.28 L223.00,236.30 L223.50,236.32 L224.00,236.35 L224.50,236.37 L225.00,236.39 L225.50,236.41 L226.00,236.43 L226.50,236.45 L227.00,236.47 L227.50,236.49 L228.00,236.51 L228.50,236.53 L229.00,236.55 L229.50,236.57 L230.00,236.59 L230.50,236.61 L231.00,236.63 L231.50,236.64 L232.00,236.66 L232.50,236.68 L233.00,236.70 L233.50,236.71 L234.00,236.73 L234.50,236.75 L235.00,236.76 L235.50,236.78 L236.00,236.79 L236.50,236.81 L237.00,236.83 L237.50,236.84 L238.00,236.86 L238.50,236.87 L239.00,236.88 L239.50,236.90 L240.00,236.91 L240.50,236.93 L241.00,236.94 L241.50,236.95 L242.00,236.97 L242.50,236.98 L243.00,236.99 L243.50,237.00 L244.00,237.02 L244.50,237.03 L245.00,237.04 L245.50,237.05 L246.00,237.07 L246.50,237.08 L247.00,237.09 L247.50,237.10 L248.00,237.11 L248.50,237.12 L249.00,237.13 L249.50,237.15 L250.00,237.16 L250.50,237.17 L251.00,237.18 L251.50,237.19 L252.00,237.20 L252.50,237.21 L253.00,237.22 L253.50,237.23 L254.00,237.24 L254.50,237.25 L255.00,237.26 L255.50,237.27 L256.00,237.28 L256.50,237.29 L257.00,237.30 L257.50,237.31 L258.00,237.32 L258.50,237.33 L259.00,237.34 L259.50,237.35 L260.00,237.36 L260.50,237.38 L261.00,237.39 L261.50,237.40 L262.00,237.41 L262.50,237.42 L263.00,237.43 L263.50,237.44 L264.00,237.45 L264.50,237.46 L265.00,237.47 L265.50,237.48 L266.00,237.49" stroke="#6d6d6d" stroke-width="0.7" stroke-dasharray="2 0.8"/>
<path d="M62.00,125.96 L62.50,120.13 L63.00,115.07 L63.50,110.13 L64.00,104.77 L64.50,99.40 L65.00,94.37 L65.50,89.71 L66.00,85.26 L66.50,81.01 L67.00,77.04 L67.50,73.42 L68.00,70.13 L68.50,66.94 L69.00,64.49 L69.50,65.02 L70.00,68.19 L70.50,76.01 L71.00,87.14 L71.50,94.38 L72.00,100.50 L72.50,106.21 L73.00,111.54 L73.50,116.85 L74.00,122.38 L74.50,128.39 L75.00,134.65 L75.50,140.48 L76.00,145.52 L76.50,150.05 L77.00,154.21 L77.50,158.13 L78.00,161.81 L78.50,165.34 L79.00,168.77 L79.50,172.16 L80.00,175.53 L80.50,178.85 L81.00,182.07 L81.50,185.15 L82.00,188.02 L82.50,190.74 L83.00,193.36 L83.50,195.81 L84.00,198.06 L84.50,200.03 L85.00,201.74 L85.50,203.18 L86.00,204.24 L86.50,204.52 L87.00,204.12 L87.50,203.84 L88.00,203.60 L88.50,203.87 L89.00,204.56 L89.50,205.48 L90.00,206.49 L90.50,207.46 L91.00,208.43 L91.50,209.39 L92.00,210.32 L92.50,211.22 L93.00,212.10 L93.50,212.99 L94.00,213.91 L94.50,214.87 L95.00,215.94 L95.50,217.31 L96.00,219.03 L96.50,220.63 L97.00,221.79 L97.50,222.60 L98.00,223.28 L98.50,223.88 L99.00,224.42 L99.50,224.91 L100.00,225.35 L100.50,225.76 L101.00,226.16 L101.50,226.55 L102.00,226.93 L102.50,227.29 L103.00,227.63 L103.50,227.93 L104.00,228.19 L104.50,228.43 L105.00,228.64 L105.50,228.92 L106.00,229.18 L106.50,229.42 L107.00,229.65 L107.50,229.85 L108.00,230.03 L108.50,230.21 L109.00,230.37 L109.50,230.52 L110.00,230.66 L110.50,230.79 L111.00,230.91 L111.50,231.03 L112.00,231.14 L112.50,231.24 L113.00,231.34 L113.50,231.43 L114.00,231.52 L114.50,231.61 L115.00,231.68 L115.50,231.76 L116.00,231.82 L116.50,231.88 L117.00,231.94 L117.50,231.99 L118.00,232.03 L118.50,232.07 L119.00,232.10 L119.50,232.13 L120.00,232.15 L120.50,232.17 L121.00,232.18 L121.50,232.20 L122.00,232.21 L122.50,232.22 L123.00,232.22 L123.50,232.23 L124.00,232.23 L124.50,232.23 L125.00,232.23 L125.50,232.23 L126.00,232.22 L126.50,232.21 L127.00,232.20 L127.50,232.18 L128.00,232.16 L128.50,232.13 L129.00,232.10 L129.50,232.07 L130.00,232.03 L130.50,231.99 L131.00,231.95 L131.50,231.90 L132.00,231.86 L132.50,231.81 L133.00,231.76 L133.50,231.71 L134.00,231.66 L134.50,231.60 L135.00,231.54 L135.50,231.48 L136.00,231.41 L136.50,231.34 L137.00,231.26 L137.50,231.18 L138.00,231.10 L138.50,231.05 L139.00,231.00 L139.50,230.94 L140.00,230.87 L140.50,230.80 L141.00,230.73 L141.50,230.65 L142.00,230.56 L142.50,230.49 L143.00,230.41 L143.50,230.34 L144.00,230.27 L144.50,230.21 L145.00,230.14 L145.50,230.08 L146.00,230.02 L146.50,229.96 L147.00,229.91 L147.50,229.86 L148.00,229.82 L148.50,229.79 L149.00,229.77 L149.50,229.75 L150.00,229.75 L150.50,229.76 L151.00,229.77 L151.50,229.79 L152.00,229.81 L152.50,229.84 L153.00,229.87 L153.50,229.90 L154.00,229.93 L154.50,229.96 L155.00,230.00 L155.50,229.91 L156.00,229.83 L156.50,229.74 L157.00,229.66 L157.50,229.58 L158.00,229.50 L158.50,229.43 L159.00,229.36 L159.50,229.30 L160.00,229.24 L160.50,229.18 L161.00,229.13 L161.50,229.09 L162.00,229.05 L162.50,229.01 L163.00,228.98 L163.50,228.96 L164.00,228.95 L164.50,228.95 L165.00,228.95 L165.50,228.95 L166.00,228.96 L166.50,228.98 L167.00,228.99 L167.50,229.01 L168.00,229.03 L168.50,229.06 L169.00,229.09 L169.50,229.12 L170.00,229.15 L170.50,229.19 L171.00,229.22 L171.50,229.26 L172.00,229.30 L172.50,229.34 L173.00,229.39 L173.50,229.43 L174.00,229.47 L174.50,229.52 L175.00,229.56 L175.50,229.61 L176.00,229.66 L176.50,229.70 L177.00,229.75 L177.50,229.80 L178.00,229.85 L178.50,229.90 L179.00,229.95 L179.50,230.00 L180.00,230.06 L180.50,230.13 L181.00,230.19 L181.50,230.26 L182.00,230.33 L182.50,230.41 L183.00,230.49 L183.50,230.58 L184.00,230.67 L184.50,230.77 L185.00,230.87 L185.50,230.98 L186.00,231.10 L186.50,231.21 L187.00,231.33 L187.50,231.46 L188.00,231.58 L188.50,231.70 L189.00,231.83 L189.50,231.95 L190.00,232.07 L190.50,232.20 L191.00,232.32 L191.50,232.43 L192.00,232.55 L192.50,232.66 L193.00,232.76 L193.50,232.87 L194.00,232.97 L194.50,233.07 L195.00,233.17 L195.50,233.27 L196.00,233.38 L196.50,233.49 L197.00,233.59 L197.50,233.69 L198.00,233.79 L198.50,233.89 L199.00,233.99 L199.50,234.09 L200.00,234.20 L200.50,234.30 L201.00,234.42 L201.50,234.53 L202.00,234.64 L202.50,234.74 L203.00,234.84 L203.50,234.93 L204.00,235.01 L204.50,235.09 L205.00,235.17 L205.50,235.25 L206.00,235.32 L206.50,235.38 L207.00,235.44 L207.50,235.49 L208.00,235.53 L208.50,235.56 L209.00,235.59 L209.50,235.61 L210.00,235.64 L210.50,235.66 L211.00,235.69 L211.50,235.72 L212.00,235.76 L212.50,235.79 L213.00,235.83 L213.50,235.87 L214.00,235.91 L214.50,235.94 L215.00,235.97 L215.50,236.00 L216.00,236.03 L216.50,236.06 L217.00,236.09 L217.50,236.11 L218.00,236.13 L218.50,236.16 L219.00,236.18 L219.50,236.20 L220.00,236.22 L220.50,236.24 L221.00,236.26 L221.50,236.28 L222.00,236.31 L222.50,236.33 L223.00,236.35 L223.50,236.37 L224.00,236.39 L224.50,236.41 L225.00,236.43 L225.50,236.45 L226.00,236.47 L226.50,236.49 L227.00,236.51 L227.50,236.53 L228.00,236.55 L228.50,236.57 L229.00,236.58 L229.50,236.60 L230.00,236.62 L230.50,236.64 L231.00,236.66 L231.50,236.67 L232.00,236.69 L232.50,236.71 L233.00,236.73 L233.50,236.74 L234.00,236.76 L234.50,236.78 L235.00,236.79 L235.50,236.81 L236.00,236.82 L236.50,236.84 L237.00,236.85 L237.50,236.87 L238.00,236.88 L238.50,236.90 L239.00,236.91 L239.50,236.93 L240.00,236.94 L240.50,236.95 L241.00,236.97 L241.50,236.98 L242.00,236.99 L242.50,237.01 L243.00,237.02 L243.50,237.03 L244.00,237.04 L244.50,237.06 L245.00,237.07 L245.50,237.08 L246.00,237.09 L246.50,237.10 L247.00,237.12 L247.50,237.13 L248.00,237.14 L248.50,237.15 L249.00,237.16 L249.50,237.17 L250.00,237.18 L250.50,237.20 L251.00,237.21 L251.50,237.22 L252.00,237.23 L252.50,237.24 L253.00,237.25 L253.50,237.26 L254.00,237.27 L254.50,237.28 L255.00,237.29 L255.50,237.30 L256.00,237.31 L256.50,237.32 L257.00,237.33 L257.50,237.34 L258.00,237.35 L258.50,237.36 L259.00,237.38 L259.50,237.39 L260.00,237.40 L260.50,237.41 L261.00,237.42 L261.50,237.43 L262.00,237.44 L262.50,237.45 L263.00,237.46 L263.50,237.47 L264.00,237.48 L264.50,237.49 L265.00,237.50 L265.50,237.51 L266.00,237.52" stroke="#6d6d6d" stroke-width="0.7" stroke-dasharray="2 0.8"/>
<path d="M62.00,126.54 L62.50,120.60 L63.00,115.46 L63.50,110.54 L64.00,105.15 L64.50,99.74 L65.00,94.66 L65.50,89.98 L66.00,85.51 L66.50,81.29 L67.00,77.37 L67.50,73.83 L68.00,70.61 L68.50,67.53 L69.00,65.15 L69.50,65.71 L70.00,68.91 L70.50,76.99 L71.00,88.48 L71.50,95.57 L72.00,101.53 L72.50,107.24 L73.00,112.63 L73.50,118.01 L74.00,123.61 L74.50,129.74 L75.00,136.15 L75.50,142.09 L76.00,147.17 L76.50,151.70 L77.00,155.82 L77.50,159.71 L78.00,163.33 L78.50,166.78 L79.00,170.14 L79.50,173.49 L80.00,176.86 L80.50,180.21 L81.00,183.48 L81.50,186.59 L82.00,189.47 L82.50,192.16 L83.00,194.69 L83.50,197.02 L84.00,199.14 L84.50,201.01 L85.00,202.64 L85.50,204.00 L86.00,204.99 L86.50,205.14 L87.00,204.62 L87.50,204.29 L88.00,204.03 L88.50,204.35 L89.00,205.08 L89.50,205.96 L90.00,206.89 L90.50,207.82 L91.00,208.75 L91.50,209.68 L92.00,210.57 L92.50,211.43 L93.00,212.29 L93.50,213.16 L94.00,214.06 L94.50,215.01 L95.00,216.08 L95.50,217.47 L96.00,219.25 L96.50,220.89 L97.00,222.05 L97.50,222.86 L98.00,223.53 L98.50,224.11 L99.00,224.64 L99.50,225.11 L100.00,225.54 L100.50,225.93 L101.00,226.31 L101.50,226.68 L102.00,227.04 L102.50,227.39 L103.00,227.72 L103.50,228.01 L104.00,228.26 L104.50,228.48 L105.00,228.68 L105.50,228.96 L106.00,229.23 L106.50,229.47 L107.00,229.69 L107.50,229.89 L108.00,230.08 L108.50,230.25 L109.00,230.41 L109.50,230.55 L110.00,230.69 L110.50,230.82 L111.00,230.95 L111.50,231.06 L112.00,231.17 L112.50,231.28 L113.00,231.37 L113.50,231.47 L114.00,231.55 L114.50,231.64 L115.00,231.72 L115.50,231.79 L116.00,231.86 L116.50,231.92 L117.00,231.97 L117.50,232.02 L118.00,232.06 L118.50,232.10 L119.00,232.13 L119.50,232.16 L120.00,232.18 L120.50,232.20 L121.00,232.22 L121.50,232.23 L122.00,232.24 L122.50,232.25 L123.00,232.25 L123.50,232.26 L124.00,232.26 L124.50,232.26 L125.00,232.26 L125.50,232.26 L126.00,232.25 L126.50,232.24 L127.00,232.23 L127.50,232.21 L128.00,232.19 L128.50,232.16 L129.00,232.13 L129.50,232.10 L130.00,232.06 L130.50,232.02 L131.00,231.98 L131.50,231.94 L132.00,231.89 L132.50,231.85 L133.00,231.80 L133.50,231.75 L134.00,231.70 L134.50,231.64 L135.00,231.58 L135.50,231.52 L136.00,231.46 L136.50,231.39 L137.00,231.31 L137.50,231.24 L138.00,231.15 L138.50,231.11 L139.00,231.07 L139.50,231.02 L140.00,230.96 L140.50,230.90 L141.00,230.83 L141.50,230.76 L142.00,230.69 L142.50,230.62 L143.00,230.56 L143.50,230.50 L144.00,230.44 L144.50,230.39 L145.00,230.34 L145.50,230.29 L146.00,230.25 L146.50,230.21 L147.00,230.17 L147.50,230.14 L148.00,230.12 L148.50,230.10 L149.00,230.10 L149.50,230.10 L150.00,230.11 L150.50,230.14 L151.00,230.17 L151.50,230.20 L152.00,230.24 L152.50,230.28 L153.00,230.33 L153.50,230.37 L154.00,230.42 L154.50,230.47 L155.00,230.52 L155.50,230.44 L156.00,230.37 L156.50,230.29 L157.00,230.22 L157.50,230.14 L158.00,230.07 L158.50,230.01 L159.00,229.94 L159.50,229.88 L160.00,229.83 L160.50,229.78 L161.00,229.73 L161.50,229.69 L162.00,229.65 L162.50,229.62 L163.00,229.59 L163.50,229.57 L164.00,229.56 L164.50,229.56 L165.00,229.57 L165.50,229.57 L166.00,229.59 L166.50,229.60 L167.00,229.62 L167.50,229.64 L168.00,229.67 L168.50,229.70 L169.00,229.73 L169.50,229.76 L170.00,229.80 L170.50,229.84 L171.00,229.88 L171.50,229.92 L172.00,229.96 L172.50,230.00 L173.00,230.05 L173.50,230.09 L174.00,230.14 L174.50,230.19 L175.00,230.24 L175.50,230.28 L176.00,230.33 L176.50,230.38 L177.00,230.43 L177.50,230.48 L178.00,230.53 L178.50,230.58 L179.00,230.63 L179.50,230.69 L180.00,230.75 L180.50,230.81 L181.00,230.88 L181.50,230.95 L182.00,231.02 L182.50,231.11 L183.00,231.19 L183.50,231.28 L184.00,231.38 L184.50,231.48 L185.00,231.60 L185.50,231.72 L186.00,231.84 L186.50,231.97 L187.00,232.10 L187.50,232.23 L188.00,232.37 L188.50,232.50 L189.00,232.64 L189.50,232.77 L190.00,232.90 L190.50,233.04 L191.00,233.16 L191.50,233.29 L192.00,233.40 L192.50,233.52 L193.00,233.63 L193.50,233.73 L194.00,233.82 L194.50,233.92 L195.00,234.01 L195.50,234.10 L196.00,234.19 L196.50,234.27 L197.00,234.36 L197.50,234.43 L198.00,234.51 L198.50,234.59 L199.00,234.66 L199.50,234.73 L200.00,234.80 L200.50,234.88 L201.00,234.95 L201.50,235.03 L202.00,235.10 L202.50,235.17 L203.00,235.23 L203.50,235.29 L204.00,235.35 L204.50,235.41 L205.00,235.47 L205.50,235.52 L206.00,235.57 L206.50,235.62 L207.00,235.66 L207.50,235.69 L208.00,235.72 L208.50,235.75 L209.00,235.78 L209.50,235.80 L210.00,235.82 L210.50,235.84 L211.00,235.86 L211.50,235.89 L212.00,235.91 L212.50,235.94 L213.00,235.96 L213.50,235.99 L214.00,236.02 L214.50,236.04 L215.00,236.07 L215.50,236.09 L216.00,236.11 L216.50,236.13 L217.00,236.16 L217.50,236.18 L218.00,236.20 L218.50,236.22 L219.00,236.23 L219.50,236.25 L220.00,236.27 L220.50,236.29 L221.00,236.31 L221.50,236.33 L222.00,236.35 L222.50,236.37 L223.00,236.39 L223.50,236.41 L224.00,236.43 L224.50,236.45 L225.00,236.47 L225.50,236.49 L226.00,236.51 L226.50,236.52 L227.00,236.54 L227.50,236.56 L228.00,236.58 L228.50,236.60 L229.00,236.62 L229.50,236.63 L230.00,236.65 L230.50,236.67 L231.00,236.69 L231.50,236.70 L232.00,236.72 L232.50,236.74 L233.00,236.76 L233.50,236.77 L234.00,236.79 L234.50,236.80 L235.00,236.82 L235.50,236.84 L236.00,236.85 L236.50,236.87 L237.00,236.88 L237.50,236.90 L238.00,236.91 L238.50,236.93 L239.00,236.94 L239.50,236.95 L240.00,236.97 L240.50,236.98 L241.00,237.00 L241.50,237.01 L242.00,237.02 L242.50,237.03 L243.00,237.05 L243.50,237.06 L244.00,237.07 L244.50,237.08 L245.00,237.10 L245.50,237.11 L246.00,237.12 L246.50,237.13 L247.00,237.14 L247.50,237.16 L248.00,237.17 L248.50,237.18 L249.00,237.19 L249.50,237.20 L250.00,237.21 L250.50,237.22 L251.00,237.23 L251.50,237.24 L252.00,237.26 L252.50,237.27 L253.00,237.28 L253.50,237.29 L254.00,237.30 L254.50,237.31 L255.00,237.32 L255.50,237.33 L256.00,237.34 L256.50,237.35 L257.00,237.36 L257.50,237.37 L258.00,237.38 L258.50,237.39 L259.00,237.41 L259.50,237.42 L260.00,237.43 L260.50,237.44 L261.00,237.45 L261.50,237.46 L262.00,237.47 L262.50,237.48 L263.00,237.49 L263.50,237.50 L264.00,237.51 L264.50,237.52 L265.00,237.53 L265.50,237.54 L266.00,237.55" stroke="#6d6d6d" stroke-width="0.7" stroke-dasharray="2 0.8"/>
<path d="M48.70,30.00 C48.82,30.80 48.87,31.47 49.40,34.80 C49.93,38.13 51.22,44.97 51.90,50.00 C52.58,55.03 52.98,59.83 53.50,65.00 C54.02,70.17 54.60,75.83 55.00,81.00 C55.40,86.17 55.63,91.00 55.90,96.00 C56.17,101.00 56.35,106.17 56.60,111.00 C56.85,115.83 57.08,121.17 57.40,125.00 C57.72,128.83 58.07,131.78 58.50,134.00 C58.93,136.22 59.55,138.80 60.00,138.30 C60.45,137.80 60.87,134.05 61.20,131.00 C61.53,127.95 61.70,123.33 62.00,120.00 C62.30,116.67 62.57,115.17 63.00,111.00 C63.43,106.83 64.05,100.17 64.60,95.00 C65.15,89.83 65.75,84.83 66.30,80.00 C66.85,75.17 67.42,69.77 67.90,66.00 C68.38,62.23 68.77,57.40 69.20,57.40 C69.63,57.40 70.03,60.57 70.50,66.00 C70.97,71.43 71.50,83.50 72.00,90.00 C72.50,96.50 72.90,99.17 73.50,105.00 C74.10,110.83 74.93,118.83 75.60,125.00 C76.27,131.17 76.82,136.17 77.50,142.00 C78.18,147.83 78.90,154.50 79.70,160.00 C80.50,165.50 81.50,170.00 82.30,175.00 C83.10,180.00 83.77,186.07 84.50,190.00 C85.23,193.93 85.97,197.07 86.70,198.60 C87.43,200.13 88.32,198.47 88.90,199.20 C89.48,199.93 89.60,201.37 90.20,203.00 C90.80,204.63 91.65,206.97 92.50,209.00 C93.35,211.03 94.47,213.37 95.30,215.20 C96.13,217.03 96.65,218.55 97.50,220.00 C98.35,221.45 99.32,222.65 100.40,223.90 C101.48,225.15 102.55,226.48 104.00,227.50 C105.45,228.52 107.10,229.33 109.10,230.00 C111.10,230.67 113.58,231.18 116.00,231.50 C118.42,231.82 121.27,231.87 123.60,231.90 C125.93,231.93 127.57,231.93 130.00,231.70 C132.43,231.47 135.87,231.03 138.20,230.50 C140.53,229.97 142.07,229.23 144.00,228.50 C145.93,227.77 148.05,226.72 149.80,226.10 C151.55,225.48 152.80,225.28 154.50,224.80 C156.20,224.32 158.05,223.57 160.00,223.20 C161.95,222.83 163.70,222.68 166.20,222.60 C168.70,222.52 172.10,222.57 175.00,222.70 C177.90,222.83 181.10,223.25 183.60,223.40 C186.10,223.55 188.27,223.47 190.00,223.60 C191.73,223.73 192.83,223.83 194.00,224.20 C195.17,224.57 196.00,225.17 197.00,225.80 C198.00,226.43 199.00,227.17 200.00,228.00 C201.00,228.83 201.83,229.93 203.00,230.80 C204.17,231.67 205.62,232.67 207.00,233.20 C208.38,233.73 209.97,233.70 211.30,234.00 C212.63,234.30 213.70,234.73 215.00,235.00 C216.30,235.27 216.60,235.38 219.10,235.60 C221.60,235.82 225.63,236.10 230.00,236.30 C234.37,236.50 239.22,236.65 245.30,236.80 C251.38,236.95 262.97,237.13 266.50,237.20" stroke="#0000ff" stroke-width="1.55"/>
<path d="M49.00,30.00 C49.12,30.80 49.17,31.47 49.70,34.80 C50.23,38.13 51.52,44.97 52.20,50.00 C52.88,55.03 53.28,59.83 53.80,65.00 C54.32,70.17 54.90,75.83 55.30,81.00 C55.70,86.17 55.93,91.00 56.20,96.00 C56.47,101.00 56.63,106.17 56.90,111.00 C57.17,115.83 57.48,120.83 57.80,125.00 C58.12,129.17 58.43,133.20 58.80,136.00 C59.17,138.80 59.60,141.80 60.00,141.80 C60.40,141.80 60.77,139.63 61.20,136.00 C61.63,132.37 62.22,124.17 62.60,120.00 C62.98,115.83 63.10,115.17 63.50,111.00 C63.90,106.83 64.47,100.17 65.00,95.00 C65.53,89.83 66.17,84.17 66.70,80.00 C67.23,75.83 67.78,72.37 68.20,70.00 C68.62,67.63 68.87,65.47 69.20,65.80 C69.53,66.13 69.90,67.97 70.20,72.00 C70.50,76.03 70.67,84.50 71.00,90.00 C71.33,95.50 71.70,99.17 72.20,105.00 C72.70,110.83 73.43,118.33 74.00,125.00 C74.57,131.67 75.05,139.17 75.60,145.00 C76.15,150.83 76.65,155.00 77.30,160.00 C77.95,165.00 78.75,170.00 79.50,175.00 C80.25,180.00 81.07,185.83 81.80,190.00 C82.53,194.17 83.22,197.38 83.90,200.00 C84.58,202.62 85.35,204.87 85.90,205.70 C86.45,206.53 86.82,205.18 87.20,205.00 C87.58,204.82 87.82,204.35 88.20,204.60 C88.58,204.85 88.95,205.60 89.50,206.50 C90.05,207.40 90.60,208.42 91.50,210.00 C92.40,211.58 94.03,214.05 94.90,216.00 C95.77,217.95 96.02,220.12 96.70,221.70 C97.38,223.28 98.15,224.40 99.00,225.50 C99.85,226.60 100.80,227.47 101.80,228.30 C102.80,229.13 103.80,229.90 105.00,230.50 C106.20,231.10 106.62,231.42 109.00,231.90 C111.38,232.38 115.80,233.17 119.30,233.40 C122.80,233.63 126.55,233.35 130.00,233.30 C133.45,233.25 136.67,233.35 140.00,233.10 C143.33,232.85 146.67,232.23 150.00,231.80 C153.33,231.37 157.30,230.75 160.00,230.50 C162.70,230.25 163.70,230.22 166.20,230.30 C168.70,230.38 172.10,230.70 175.00,231.00 C177.90,231.30 180.43,231.47 183.60,232.10 C186.77,232.73 190.43,234.18 194.00,234.80 C197.57,235.42 200.83,235.55 205.00,235.80 C209.17,236.05 213.17,236.10 219.00,236.30 C224.83,236.50 232.08,236.78 240.00,237.00 C247.92,237.22 262.08,237.50 266.50,237.60" stroke="#ff0000" stroke-width="1.55"/>
</g>
<g stroke="#000" fill="none">
<line x1="37.9" y1="34.8" x2="266.7" y2="34.8" stroke-width="1.1" stroke="#333"/>
<line x1="38.5" y1="34.3" x2="38.5" y2="241.4" stroke-width="1.3"/>
<line x1="266.7" y1="34.3" x2="266.7" y2="241.4" stroke-width="1.3"/>
<line x1="37.9" y1="240.5" x2="267.3" y2="240.5" stroke-width="1.8"/>
<line x1="57.42" y1="240.5" x2="57.42" y2="237.9" stroke-width="1.2"/>
<line x1="76.45" y1="240.5" x2="76.45" y2="236.5" stroke-width="1.2"/>
<line x1="95.47" y1="240.5" x2="95.47" y2="237.9" stroke-width="1.2"/>
<line x1="114.50" y1="240.5" x2="114.50" y2="236.5" stroke-width="1.2"/>
<line x1="133.53" y1="240.5" x2="133.53" y2="237.9" stroke-width="1.2"/>
<line x1="152.55" y1="240.5" x2="152.55" y2="236.5" stroke-width="1.2"/>
<line x1="171.58" y1="240.5" x2="171.58" y2="237.9" stroke-width="1.2"/>
<line x1="190.60" y1="240.5" x2="190.60" y2="236.5" stroke-width="1.2"/>
<line x1="209.62" y1="240.5" x2="209.62" y2="237.9" stroke-width="1.2"/>
<line x1="228.65" y1="240.5" x2="228.65" y2="236.5" stroke-width="1.2"/>
<line x1="247.68" y1="240.5" x2="247.68" y2="237.9" stroke-width="1.2"/>
<line x1="38.5" y1="229.74" x2="41.1" y2="229.74" stroke-width="1.2"/>
<line x1="38.5" y1="218.28" x2="41.1" y2="218.28" stroke-width="1.2"/>
<line x1="38.5" y1="206.82" x2="41.1" y2="206.82" stroke-width="1.2"/>
<line x1="38.5" y1="195.36" x2="41.1" y2="195.36" stroke-width="1.2"/>
<line x1="38.5" y1="183.90" x2="42.5" y2="183.90" stroke-width="1.2"/>
<line x1="38.5" y1="172.44" x2="41.1" y2="172.44" stroke-width="1.2"/>
<line x1="38.5" y1="160.98" x2="41.1" y2="160.98" stroke-width="1.2"/>
<line x1="38.5" y1="149.52" x2="41.1" y2="149.52" stroke-width="1.2"/>
<line x1="38.5" y1="138.06" x2="41.1" y2="138.06" stroke-width="1.2"/>
<line x1="38.5" y1="126.60" x2="42.5" y2="126.60" stroke-width="1.2"/>
<line x1="38.5" y1="115.14" x2="41.1" y2="115.14" stroke-width="1.2"/>
<line x1="38.5" y1="103.68" x2="41.1" y2="103.68" stroke-width="1.2"/>
<line x1="38.5" y1="92.22" x2="41.1" y2="92.22" stroke-width="1.2"/>
<line x1="38.5" y1="80.76" x2="41.1" y2="80.76" stroke-width="1.2"/>
<line x1="38.5" y1="69.30" x2="42.5" y2="69.30" stroke-width="1.2"/>
<line x1="38.5" y1="57.84" x2="41.1" y2="57.84" stroke-width="1.2"/>
<line x1="38.5" y1="46.38" x2="41.1" y2="46.38" stroke-width="1.2"/>
</g>
<g stroke="#333" stroke-width="1.3"><line x1="139.6" y1="218.8" x2="221" y2="218.8"/><line x1="139.6" y1="214.8" x2="139.6" y2="222.8"/><line x1="221" y1="214.8" x2="221" y2="222.8"/></g>
<rect x="116.9" y="38.35" width="140.70000000000002" height="143.45000000000002" fill="#fff"/>
<g clip-path="url(#ci)" fill="none">
<path d="M118.50,50.76 L118.90,59.14 L119.30,67.95 L119.70,73.04 L120.10,76.87 L120.50,80.32 L120.90,83.53 L121.30,86.56 L121.70,89.44 L122.10,92.20 L122.50,94.78 L122.90,97.17 L123.30,99.37 L123.70,101.41 L124.10,103.31 L124.50,105.10 L124.90,106.80 L125.30,108.43 L125.70,109.99 L126.10,111.50 L126.50,112.96 L126.90,114.37 L127.30,115.75 L127.70,117.09 L128.10,118.38 L128.50,119.63 L128.90,120.82 L129.30,121.95 L129.70,123.02 L130.10,124.03 L130.50,124.99 L130.90,125.92 L131.30,126.80 L131.70,127.65 L132.10,128.45 L132.50,129.21 L132.90,129.92 L133.30,130.58 L133.70,131.19 L134.10,131.74 L134.50,132.22 L134.90,132.64 L135.30,132.99 L135.70,133.29 L136.10,133.54 L136.50,133.76 L136.90,133.96 L137.30,134.14 L137.70,134.31 L138.10,134.48 L138.50,134.64 L138.90,134.79 L139.30,134.91 L139.70,135.02 L140.10,135.10 L140.50,135.15 L140.90,135.18 L141.30,135.17 L141.70,135.13 L142.10,135.05 L142.50,134.94 L142.90,134.79 L143.30,134.61 L143.70,134.41 L144.10,134.17 L144.50,133.92 L144.90,133.64 L145.30,133.35 L145.70,133.04 L146.10,132.71 L146.50,132.34 L146.90,131.92 L147.30,131.42 L147.70,130.88 L148.10,130.32 L148.50,129.78 L148.90,129.25 L149.30,128.72 L149.70,128.19 L150.10,127.66 L150.50,127.14 L150.90,126.62 L151.30,126.09 L151.70,125.54 L152.10,124.96 L152.50,124.36 L152.90,123.75 L153.30,123.11 L153.70,122.44 L154.10,121.74 L154.50,121.02 L154.90,120.27 L155.30,119.47 L155.70,118.65 L156.10,117.79 L156.50,116.92 L156.90,116.03 L157.30,115.14 L157.70,114.27 L158.10,113.42 L158.50,112.57 L158.90,111.68 L159.30,110.72 L159.70,109.69 L160.10,108.61 L160.50,107.49 L160.90,106.35 L161.30,105.20 L161.70,104.04 L162.10,102.88 L162.50,101.73 L162.90,100.59 L163.30,99.46 L163.70,98.35 L164.10,97.24 L164.50,96.13 L164.90,95.03 L165.30,93.94 L165.70,92.85 L166.10,91.75 L166.50,90.57 L166.90,89.40 L167.30,88.24 L167.70,87.04 L168.10,85.80 L168.50,84.55 L168.90,83.31 L169.30,82.10 L169.70,80.96 L170.10,79.92 L170.50,78.98 L170.90,78.19 L171.30,77.56 L171.70,77.04 L172.10,76.62 L172.50,76.29 L172.90,76.03 L173.30,75.84 L173.70,75.69 L174.10,75.58 L174.50,75.49 L174.90,75.43 L175.30,75.43 L175.70,75.50 L176.10,75.63 L176.50,75.81 L176.90,76.03 L177.30,76.28 L177.70,76.54 L178.10,76.80 L178.50,77.11 L178.90,77.46 L179.30,77.83 L179.70,78.23 L180.10,78.63 L180.50,79.03 L180.90,79.42 L181.30,79.78 L181.70,80.11 L182.10,80.41 L182.50,80.68 L182.90,80.95 L183.30,81.20 L183.70,81.45 L184.10,81.68 L184.50,81.90 L184.90,82.11 L185.30,82.30 L185.70,82.47 L186.10,82.62 L186.50,82.75 L186.90,82.83 L187.30,82.87 L187.70,82.87 L188.10,82.84 L188.50,82.77 L188.90,82.70 L189.30,82.63 L189.70,82.58 L190.10,82.55 L190.50,82.51 L190.90,82.46 L191.30,82.40 L191.70,82.33 L192.10,82.28 L192.50,82.25 L192.90,82.24 L193.30,82.27 L193.70,82.37 L194.10,82.47 L194.50,82.60 L194.90,82.82 L195.30,83.18 L195.70,83.70 L196.10,84.35 L196.50,85.10 L196.90,85.94 L197.30,86.86 L197.70,87.84 L198.10,88.88 L198.50,89.98 L198.90,91.13 L199.30,92.32 L199.70,93.53 L200.10,94.74 L200.50,95.98 L200.90,97.27 L201.30,98.62 L201.70,100.05 L202.10,101.59 L202.50,103.26 L202.90,105.10 L203.30,107.23 L203.70,109.64 L204.10,112.27 L204.50,115.05 L204.90,117.88 L205.30,120.68 L205.70,123.33 L206.10,125.68 L206.50,127.70 L206.90,129.46 L207.30,130.99 L207.70,132.35 L208.10,133.69 L208.50,135.08 L208.90,136.49 L209.30,137.86 L209.70,139.20 L210.10,140.53 L210.50,141.85 L210.90,143.17 L211.30,144.51 L211.70,145.89 L212.10,147.34 L212.50,148.83 L212.90,150.28 L213.30,151.63 L213.70,152.87 L214.10,154.08 L214.50,155.25 L214.90,156.35 L215.30,157.36 L215.70,158.28 L216.10,159.10 L216.50,159.84 L216.90,160.53 L217.30,161.17 L217.70,161.79 L218.10,162.37 L218.50,162.94 L218.90,163.49 L219.30,164.03 L219.70,164.55 L220.10,165.05 L220.50,165.51 L220.90,165.94 L221.30,166.35 L221.70,166.74 L222.10,167.12 L222.50,167.49 L222.90,167.88 L223.30,168.31 L223.70,168.70 L224.10,169.03 L224.50,169.31 L224.90,169.54 L225.30,169.74 L225.70,169.93 L226.10,170.11 L226.50,170.29 L226.90,170.46 L227.30,170.63 L227.70,170.79 L228.10,170.95 L228.50,171.10 L228.90,171.24 L229.30,171.38 L229.70,171.51 L230.10,171.64 L230.50,171.76 L230.90,171.87 L231.30,171.98 L231.70,172.08 L232.10,172.18 L232.50,172.27 L232.90,172.35 L233.30,172.43 L233.70,172.50 L234.10,172.58 L234.50,172.64 L234.90,172.70 L235.30,172.76 L235.70,172.82 L236.10,172.88 L236.50,172.93 L236.90,172.98 L237.30,173.02 L237.70,173.07 L238.10,173.11 L238.50,173.16 L238.90,173.20 L239.30,173.24 L239.70,173.27 L240.10,173.31 L240.50,173.34 L240.90,173.38 L241.30,173.41 L241.70,173.44 L242.10,173.47 L242.50,173.50 L242.90,173.53 L243.30,173.56 L243.70,173.59 L244.10,173.61 L244.50,173.64 L244.90,173.67 L245.30,173.69 L245.70,173.71 L246.10,173.73 L246.50,173.74 L246.90,173.76 L247.30,173.78 L247.70,173.79 L248.10,173.80 L248.50,173.82 L248.90,173.83 L249.30,173.84 L249.70,173.85 L250.10,173.86 L250.50,173.87 L250.90,173.88 L251.30,173.89 L251.70,173.89 L252.10,173.90 L252.50,173.91 L252.90,173.92 L253.30,173.92 L253.70,173.93 L254.10,173.94 L254.50,173.94 L254.90,173.95 L255.30,173.95 L255.70,173.96 L256.10,173.97 L256.50,173.97 L256.90,173.98 L257.30,173.99 L257.70,174.00" stroke="#5a5a5a" stroke-width="0.9" stroke-dasharray="3 0.7"/>
<path d="M118.50,52.37 L118.90,60.56 L119.30,69.13 L119.70,74.24 L120.10,78.16 L120.50,81.62 L120.90,84.81 L121.30,87.81 L121.70,90.66 L122.10,93.37 L122.50,95.93 L122.90,98.30 L123.30,100.49 L123.70,102.52 L124.10,104.42 L124.50,106.22 L124.90,107.94 L125.30,109.57 L125.70,111.15 L126.10,112.66 L126.50,114.11 L126.90,115.52 L127.30,116.88 L127.70,118.20 L128.10,119.46 L128.50,120.68 L128.90,121.84 L129.30,122.94 L129.70,123.98 L130.10,124.97 L130.50,125.91 L130.90,126.81 L131.30,127.67 L131.70,128.50 L132.10,129.28 L132.50,130.02 L132.90,130.71 L133.30,131.35 L133.70,131.94 L134.10,132.48 L134.50,132.94 L134.90,133.35 L135.30,133.68 L135.70,133.95 L136.10,134.18 L136.50,134.38 L136.90,134.55 L137.30,134.71 L137.70,134.86 L138.10,135.01 L138.50,135.15 L138.90,135.27 L139.30,135.37 L139.70,135.46 L140.10,135.52 L140.50,135.55 L140.90,135.56 L141.30,135.53 L141.70,135.47 L142.10,135.38 L142.50,135.27 L142.90,135.12 L143.30,134.95 L143.70,134.74 L144.10,134.51 L144.50,134.26 L144.90,133.99 L145.30,133.70 L145.70,133.39 L146.10,133.07 L146.50,132.71 L146.90,132.29 L147.30,131.80 L147.70,131.27 L148.10,130.72 L148.50,130.19 L148.90,129.67 L149.30,129.15 L149.70,128.62 L150.10,128.11 L150.50,127.65 L150.90,127.19 L151.30,126.71 L151.70,126.22 L152.10,125.71 L152.50,125.18 L152.90,124.63 L153.30,124.07 L153.70,123.48 L154.10,122.86 L154.50,122.23 L154.90,121.57 L155.30,120.87 L155.70,120.15 L156.10,119.41 L156.50,118.65 L156.90,117.89 L157.30,117.13 L157.70,116.38 L158.10,115.67 L158.50,114.96 L158.90,114.22 L159.30,113.42 L159.70,112.57 L160.10,111.68 L160.50,110.76 L160.90,109.83 L161.30,108.90 L161.70,107.97 L162.10,107.05 L162.50,106.15 L162.90,105.26 L163.30,104.40 L163.70,103.56 L164.10,102.74 L164.50,101.92 L164.90,101.12 L165.30,100.34 L165.70,99.57 L166.10,98.76 L166.50,97.77 L166.90,96.79 L167.30,95.82 L167.70,94.82 L168.10,93.78 L168.50,92.74 L168.90,91.71 L169.30,90.71 L169.70,89.77 L170.10,88.90 L170.50,88.14 L170.90,87.49 L171.30,86.96 L171.70,86.54 L172.10,86.20 L172.50,85.93 L172.90,85.73 L173.30,85.58 L173.70,85.47 L174.10,85.39 L174.50,85.34 L174.90,85.31 L175.30,85.34 L175.70,85.43 L176.10,85.56 L176.50,85.75 L176.90,85.97 L177.30,86.21 L177.70,86.47 L178.10,86.75 L178.50,87.06 L178.90,87.42 L179.30,87.80 L179.70,88.20 L180.10,88.61 L180.50,89.02 L180.90,89.42 L181.30,89.81 L181.70,90.16 L182.10,90.49 L182.50,90.79 L182.90,91.09 L183.30,91.37 L183.70,91.65 L184.10,91.92 L184.50,92.18 L184.90,92.44 L185.30,92.68 L185.70,92.90 L186.10,93.12 L186.50,93.31 L186.90,93.47 L187.30,93.60 L187.70,93.70 L188.10,93.77 L188.50,93.83 L188.90,93.89 L189.30,93.94 L189.70,94.01 L190.10,94.11 L190.50,94.20 L190.90,94.27 L191.30,94.34 L191.70,94.41 L192.10,94.48 L192.50,94.57 L192.90,94.67 L193.30,94.80 L193.70,94.99 L194.10,95.18 L194.50,95.39 L194.90,95.68 L195.30,96.08 L195.70,96.60 L196.10,97.23 L196.50,97.94 L196.90,98.71 L197.30,99.55 L197.70,100.43 L198.10,101.36 L198.50,102.33 L198.90,103.34 L199.30,104.38 L199.70,105.44 L200.10,106.49 L200.50,107.57 L200.90,108.68 L201.30,109.84 L201.70,111.07 L202.10,112.38 L202.50,113.80 L202.90,115.36 L203.30,117.15 L203.70,119.17 L204.10,121.36 L204.50,123.68 L204.90,126.04 L205.30,128.37 L205.70,130.57 L206.10,132.54 L206.50,134.23 L206.90,135.72 L207.30,137.01 L207.70,138.17 L208.10,139.30 L208.50,140.49 L208.90,141.68 L209.30,142.84 L209.70,143.98 L210.10,145.10 L210.50,146.22 L210.90,147.34 L211.30,148.47 L211.70,149.63 L212.10,150.85 L212.50,152.10 L212.90,153.33 L213.30,154.46 L213.70,155.50 L214.10,156.52 L214.50,157.51 L214.90,158.43 L215.30,159.29 L215.70,160.07 L216.10,160.77 L216.50,161.40 L216.90,161.99 L217.30,162.55 L217.70,163.08 L218.10,163.58 L218.50,164.08 L218.90,164.55 L219.30,165.02 L219.70,165.48 L220.10,165.91 L220.50,166.32 L220.90,166.70 L221.30,167.06 L221.70,167.41 L222.10,167.75 L222.50,168.08 L222.90,168.43 L223.30,168.80 L223.70,169.15 L224.10,169.44 L224.50,169.69 L224.90,169.90 L225.30,170.09 L225.70,170.27 L226.10,170.44 L226.50,170.61 L226.90,170.78 L227.30,170.94 L227.70,171.10 L228.10,171.24 L228.50,171.39 L228.90,171.52 L229.30,171.66 L229.70,171.78 L230.10,171.90 L230.50,172.01 L230.90,172.12 L231.30,172.22 L231.70,172.31 L232.10,172.40 L232.50,172.48 L232.90,172.56 L233.30,172.64 L233.70,172.71 L234.10,172.77 L234.50,172.83 L234.90,172.89 L235.30,172.95 L235.70,173.00 L236.10,173.05 L236.50,173.10 L236.90,173.15 L237.30,173.20 L237.70,173.24 L238.10,173.28 L238.50,173.32 L238.90,173.36 L239.30,173.40 L239.70,173.44 L240.10,173.47 L240.50,173.51 L240.90,173.54 L241.30,173.57 L241.70,173.60 L242.10,173.63 L242.50,173.66 L242.90,173.69 L243.30,173.72 L243.70,173.75 L244.10,173.78 L244.50,173.80 L244.90,173.83 L245.30,173.85 L245.70,173.88 L246.10,173.90 L246.50,173.91 L246.90,173.93 L247.30,173.95 L247.70,173.97 L248.10,173.98 L248.50,174.00 L248.90,174.01 L249.30,174.02 L249.70,174.04 L250.10,174.05 L250.50,174.06 L250.90,174.07 L251.30,174.08 L251.70,174.09 L252.10,174.11 L252.50,174.12 L252.90,174.13 L253.30,174.13 L253.70,174.14 L254.10,174.15 L254.50,174.16 L254.90,174.17 L255.30,174.18 L255.70,174.19 L256.10,174.20 L256.50,174.21 L256.90,174.22 L257.30,174.23 L257.70,174.24" stroke="#5a5a5a" stroke-width="0.9" stroke-dasharray="3 0.7"/>
<path d="M118.50,53.76 L118.90,61.79 L119.30,70.14 L119.70,75.28 L120.10,79.27 L120.50,82.75 L120.90,85.92 L121.30,88.90 L121.70,91.71 L122.10,94.40 L122.50,96.92 L122.90,99.27 L123.30,101.45 L123.70,103.48 L124.10,105.39 L124.50,107.19 L124.90,108.92 L125.30,110.56 L125.70,112.14 L126.10,113.66 L126.50,115.11 L126.90,116.51 L127.30,117.86 L127.70,119.16 L128.10,120.40 L128.50,121.59 L128.90,122.72 L129.30,123.80 L129.70,124.82 L130.10,125.78 L130.50,126.70 L130.90,127.58 L131.30,128.43 L131.70,129.23 L132.10,130.00 L132.50,130.72 L132.90,131.39 L133.30,132.02 L133.70,132.59 L134.10,133.11 L134.50,133.57 L134.90,133.97 L135.30,134.27 L135.70,134.52 L136.10,134.73 L136.50,134.91 L136.90,135.06 L137.30,135.20 L137.70,135.34 L138.10,135.46 L138.50,135.58 L138.90,135.69 L139.30,135.77 L139.70,135.84 L140.10,135.88 L140.50,135.90 L140.90,135.88 L141.30,135.84 L141.70,135.76 L142.10,135.66 L142.50,135.55 L142.90,135.41 L143.30,135.24 L143.70,135.03 L144.10,134.81 L144.50,134.56 L144.90,134.29 L145.30,134.00 L145.70,133.70 L146.10,133.38 L146.50,133.03 L146.90,132.61 L147.30,132.13 L147.70,131.61 L148.10,131.07 L148.50,130.54 L148.90,130.03 L149.30,129.52 L149.70,129.00 L150.10,128.51 L150.50,128.09 L150.90,127.68 L151.30,127.25 L151.70,126.82 L152.10,126.36 L152.50,125.89 L152.90,125.40 L153.30,124.90 L153.70,124.38 L154.10,123.84 L154.50,123.27 L154.90,122.69 L155.30,122.08 L155.70,121.45 L156.10,120.80 L156.50,120.15 L156.90,119.49 L157.30,118.85 L157.70,118.22 L158.10,117.62 L158.50,117.04 L158.90,116.42 L159.30,115.76 L159.70,115.06 L160.10,114.33 L160.50,113.59 L160.90,112.84 L161.30,112.10 L161.70,111.37 L162.10,110.66 L162.50,109.97 L162.90,109.31 L163.30,108.67 L163.70,108.07 L164.10,107.49 L164.50,106.93 L164.90,106.39 L165.30,105.88 L165.70,105.38 L166.10,104.83 L166.50,104.00 L166.90,103.18 L167.30,102.37 L167.70,101.54 L168.10,100.69 L168.50,99.83 L168.90,98.98 L169.30,98.16 L169.70,97.39 L170.10,96.68 L170.50,96.05 L170.90,95.52 L171.30,95.10 L171.70,94.75 L172.10,94.48 L172.50,94.27 L172.90,94.12 L173.30,94.01 L173.70,93.93 L174.10,93.89 L174.50,93.86 L174.90,93.86 L175.30,93.91 L175.70,94.01 L176.10,94.15 L176.50,94.34 L176.90,94.56 L177.30,94.80 L177.70,95.07 L178.10,95.35 L178.50,95.67 L178.90,96.03 L179.30,96.42 L179.70,96.83 L180.10,97.25 L180.50,97.67 L180.90,98.08 L181.30,98.48 L181.70,98.85 L182.10,99.20 L182.50,99.53 L182.90,99.86 L183.30,100.17 L183.70,100.48 L184.10,100.78 L184.50,101.08 L184.90,101.37 L185.30,101.65 L185.70,101.93 L186.10,102.19 L186.50,102.45 L186.90,102.68 L187.30,102.88 L187.70,103.07 L188.10,103.24 L188.50,103.40 L188.90,103.56 L189.30,103.73 L189.70,103.91 L190.10,104.11 L190.50,104.31 L190.90,104.50 L191.30,104.68 L191.70,104.86 L192.10,105.04 L192.50,105.22 L192.90,105.42 L193.30,105.64 L193.70,105.91 L194.10,106.17 L194.50,106.46 L194.90,106.80 L195.30,107.23 L195.70,107.76 L196.10,108.37 L196.50,109.04 L196.90,109.76 L197.30,110.52 L197.70,111.32 L198.10,112.15 L198.50,113.01 L198.90,113.90 L199.30,114.82 L199.70,115.74 L200.10,116.66 L200.50,117.59 L200.90,118.55 L201.30,119.55 L201.70,120.61 L202.10,121.72 L202.50,122.93 L202.90,124.24 L203.30,125.73 L203.70,127.41 L204.10,129.23 L204.50,131.15 L204.90,133.09 L205.30,135.02 L205.70,136.84 L206.10,138.47 L206.50,139.89 L206.90,141.13 L207.30,142.22 L207.70,143.21 L208.10,144.16 L208.50,145.16 L208.90,146.17 L209.30,147.15 L209.70,148.11 L210.10,149.06 L210.50,150.00 L210.90,150.95 L211.30,151.90 L211.70,152.87 L212.10,153.89 L212.50,154.93 L212.90,155.96 L213.30,156.91 L213.70,157.78 L214.10,158.63 L214.50,159.46 L214.90,160.24 L215.30,160.96 L215.70,161.61 L216.10,162.21 L216.50,162.75 L216.90,163.26 L217.30,163.74 L217.70,164.19 L218.10,164.63 L218.50,165.06 L218.90,165.47 L219.30,165.88 L219.70,166.28 L220.10,166.66 L220.50,167.02 L220.90,167.36 L221.30,167.68 L221.70,167.99 L222.10,168.29 L222.50,168.59 L222.90,168.90 L223.30,169.22 L223.70,169.53 L224.10,169.80 L224.50,170.02 L224.90,170.21 L225.30,170.39 L225.70,170.56 L226.10,170.73 L226.50,170.89 L226.90,171.05 L227.30,171.21 L227.70,171.36 L228.10,171.50 L228.50,171.64 L228.90,171.77 L229.30,171.89 L229.70,172.01 L230.10,172.12 L230.50,172.23 L230.90,172.33 L231.30,172.42 L231.70,172.51 L232.10,172.59 L232.50,172.67 L232.90,172.74 L233.30,172.81 L233.70,172.88 L234.10,172.94 L234.50,173.00 L234.90,173.05 L235.30,173.11 L235.70,173.16 L236.10,173.21 L236.50,173.26 L236.90,173.30 L237.30,173.34 L237.70,173.39 L238.10,173.43 L238.50,173.47 L238.90,173.50 L239.30,173.54 L239.70,173.58 L240.10,173.61 L240.50,173.65 L240.90,173.68 L241.30,173.71 L241.70,173.74 L242.10,173.77 L242.50,173.80 L242.90,173.83 L243.30,173.86 L243.70,173.89 L244.10,173.92 L244.50,173.95 L244.90,173.97 L245.30,174.00 L245.70,174.02 L246.10,174.04 L246.50,174.06 L246.90,174.08 L247.30,174.10 L247.70,174.12 L248.10,174.14 L248.50,174.15 L248.90,174.17 L249.30,174.18 L249.70,174.20 L250.10,174.21 L250.50,174.23 L250.90,174.24 L251.30,174.26 L251.70,174.27 L252.10,174.28 L252.50,174.29 L252.90,174.31 L253.30,174.32 L253.70,174.33 L254.10,174.34 L254.50,174.35 L254.90,174.36 L255.30,174.38 L255.70,174.39 L256.10,174.40 L256.50,174.41 L256.90,174.42 L257.30,174.43 L257.70,174.45" stroke="#5a5a5a" stroke-width="0.9" stroke-dasharray="3 0.7"/>
<path d="M118.50,54.96 L118.90,62.86 L119.30,71.02 L119.70,76.19 L120.10,80.23 L120.50,83.72 L120.90,86.88 L121.30,89.83 L121.70,92.62 L122.10,95.28 L122.50,97.78 L122.90,100.11 L123.30,102.28 L123.70,104.31 L124.10,106.22 L124.50,108.03 L124.90,109.76 L125.30,111.42 L125.70,113.00 L126.10,114.52 L126.50,115.97 L126.90,117.37 L127.30,118.70 L127.70,119.98 L128.10,121.21 L128.50,122.38 L128.90,123.49 L129.30,124.54 L129.70,125.54 L130.10,126.48 L130.50,127.38 L130.90,128.25 L131.30,129.08 L131.70,129.87 L132.10,130.62 L132.50,131.32 L132.90,131.98 L133.30,132.59 L133.70,133.15 L134.10,133.66 L134.50,134.11 L134.90,134.50 L135.30,134.78 L135.70,135.01 L136.10,135.20 L136.50,135.37 L136.90,135.51 L137.30,135.63 L137.70,135.75 L138.10,135.86 L138.50,135.96 L138.90,136.05 L139.30,136.12 L139.70,136.17 L140.10,136.19 L140.50,136.19 L140.90,136.17 L141.30,136.11 L141.70,136.02 L142.10,135.91 L142.50,135.80 L142.90,135.66 L143.30,135.49 L143.70,135.28 L144.10,135.06 L144.50,134.81 L144.90,134.55 L145.30,134.27 L145.70,133.97 L146.10,133.65 L146.50,133.30 L146.90,132.89 L147.30,132.42 L147.70,131.90 L148.10,131.37 L148.50,130.85 L148.90,130.34 L149.30,129.84 L149.70,129.33 L150.10,128.85 L150.50,128.48 L150.90,128.10 L151.30,127.72 L151.70,127.33 L152.10,126.92 L152.50,126.50 L152.90,126.07 L153.30,125.62 L153.70,125.16 L154.10,124.67 L154.50,124.18 L154.90,123.66 L155.30,123.13 L155.70,122.58 L156.10,122.01 L156.50,121.45 L156.90,120.88 L157.30,120.33 L157.70,119.81 L158.10,119.31 L158.50,118.83 L158.90,118.33 L159.30,117.79 L159.70,117.22 L160.10,116.63 L160.50,116.04 L160.90,115.45 L161.30,114.87 L161.70,114.32 L162.10,113.78 L162.50,113.28 L162.90,112.81 L163.30,112.37 L163.70,111.97 L164.10,111.60 L164.50,111.26 L164.90,110.95 L165.30,110.67 L165.70,110.41 L166.10,110.07 L166.50,109.39 L166.90,108.71 L167.30,108.04 L167.70,107.36 L168.10,106.66 L168.50,105.96 L168.90,105.27 L169.30,104.60 L169.70,103.98 L170.10,103.41 L170.50,102.90 L170.90,102.48 L171.30,102.14 L171.70,101.87 L172.10,101.65 L172.50,101.49 L172.90,101.38 L173.30,101.30 L173.70,101.25 L174.10,101.23 L174.50,101.24 L174.90,101.26 L175.30,101.33 L175.70,101.44 L176.10,101.59 L176.50,101.78 L176.90,101.99 L177.30,102.24 L177.70,102.51 L178.10,102.80 L178.50,103.12 L178.90,103.49 L179.30,103.88 L179.70,104.29 L180.10,104.72 L180.50,105.14 L180.90,105.57 L181.30,105.98 L181.70,106.37 L182.10,106.74 L182.50,107.10 L182.90,107.44 L183.30,107.78 L183.70,108.12 L184.10,108.45 L184.50,108.78 L184.90,109.10 L185.30,109.42 L185.70,109.74 L186.10,110.05 L186.50,110.35 L186.90,110.64 L187.30,110.91 L187.70,111.17 L188.10,111.42 L188.50,111.68 L188.90,111.93 L189.30,112.19 L189.70,112.47 L190.10,112.77 L190.50,113.06 L190.90,113.34 L191.30,113.62 L191.70,113.89 L192.10,114.17 L192.50,114.44 L192.90,114.72 L193.30,115.02 L193.70,115.35 L194.10,115.69 L194.50,116.03 L194.90,116.43 L195.30,116.88 L195.70,117.41 L196.10,118.01 L196.50,118.65 L196.90,119.32 L197.30,120.02 L197.70,120.74 L198.10,121.49 L198.50,122.25 L198.90,123.04 L199.30,123.84 L199.70,124.65 L200.10,125.45 L200.50,126.26 L200.90,127.10 L201.30,127.96 L201.70,128.86 L202.10,129.81 L202.50,130.82 L202.90,131.92 L203.30,133.16 L203.70,134.55 L204.10,136.04 L204.50,137.61 L204.90,139.20 L205.30,140.77 L205.70,142.27 L206.10,143.61 L206.50,144.78 L206.90,145.81 L207.30,146.73 L207.70,147.56 L208.10,148.37 L208.50,149.21 L208.90,150.06 L209.30,150.88 L209.70,151.69 L210.10,152.48 L210.50,153.27 L210.90,154.06 L211.30,154.86 L211.70,155.67 L212.10,156.52 L212.50,157.39 L212.90,158.23 L213.30,159.02 L213.70,159.75 L214.10,160.46 L214.50,161.15 L214.90,161.80 L215.30,162.40 L215.70,162.95 L216.10,163.46 L216.50,163.92 L216.90,164.35 L217.30,164.76 L217.70,165.16 L218.10,165.54 L218.50,165.91 L218.90,166.27 L219.30,166.62 L219.70,166.97 L220.10,167.31 L220.50,167.63 L220.90,167.93 L221.30,168.22 L221.70,168.49 L222.10,168.76 L222.50,169.03 L222.90,169.30 L223.30,169.59 L223.70,169.86 L224.10,170.10 L224.50,170.31 L224.90,170.49 L225.30,170.65 L225.70,170.82 L226.10,170.98 L226.50,171.13 L226.90,171.29 L227.30,171.44 L227.70,171.58 L228.10,171.72 L228.50,171.85 L228.90,171.98 L229.30,172.10 L229.70,172.21 L230.10,172.32 L230.50,172.42 L230.90,172.51 L231.30,172.60 L231.70,172.68 L232.10,172.76 L232.50,172.83 L232.90,172.90 L233.30,172.97 L233.70,173.03 L234.10,173.09 L234.50,173.14 L234.90,173.20 L235.30,173.25 L235.70,173.30 L236.10,173.34 L236.50,173.39 L236.90,173.43 L237.30,173.47 L237.70,173.51 L238.10,173.55 L238.50,173.59 L238.90,173.63 L239.30,173.66 L239.70,173.70 L240.10,173.73 L240.50,173.77 L240.90,173.80 L241.30,173.83 L241.70,173.86 L242.10,173.89 L242.50,173.92 L242.90,173.95 L243.30,173.98 L243.70,174.01 L244.10,174.04 L244.50,174.07 L244.90,174.09 L245.30,174.12 L245.70,174.14 L246.10,174.17 L246.50,174.19 L246.90,174.21 L247.30,174.23 L247.70,174.25 L248.10,174.27 L248.50,174.29 L248.90,174.31 L249.30,174.32 L249.70,174.34 L250.10,174.36 L250.50,174.37 L250.90,174.39 L251.30,174.40 L251.70,174.42 L252.10,174.43 L252.50,174.45 L252.90,174.46 L253.30,174.48 L253.70,174.49 L254.10,174.50 L254.50,174.52 L254.90,174.53 L255.30,174.54 L255.70,174.56 L256.10,174.57 L256.50,174.59 L256.90,174.60 L257.30,174.61 L257.70,174.63" stroke="#5a5a5a" stroke-width="0.9" stroke-dasharray="3 0.7"/>
<path d="M118.50,55.97 L118.90,63.75 L119.30,71.76 L119.70,76.94 L120.10,81.03 L120.50,84.54 L120.90,87.68 L121.30,90.62 L121.70,93.38 L122.10,96.02 L122.50,98.50 L122.90,100.82 L123.30,102.98 L123.70,105.00 L124.10,106.91 L124.50,108.73 L124.90,110.47 L125.30,112.13 L125.70,113.72 L126.10,115.24 L126.50,116.70 L126.90,118.08 L127.30,119.41 L127.70,120.68 L128.10,121.88 L128.50,123.03 L128.90,124.13 L129.30,125.16 L129.70,126.14 L130.10,127.07 L130.50,127.95 L130.90,128.80 L131.30,129.62 L131.70,130.40 L132.10,131.14 L132.50,131.83 L132.90,132.48 L133.30,133.08 L133.70,133.62 L134.10,134.12 L134.50,134.56 L134.90,134.94 L135.30,135.21 L135.70,135.43 L136.10,135.60 L136.50,135.75 L136.90,135.88 L137.30,135.99 L137.70,136.09 L138.10,136.19 L138.50,136.28 L138.90,136.35 L139.30,136.41 L139.70,136.44 L140.10,136.46 L140.50,136.44 L140.90,136.40 L141.30,136.33 L141.70,136.23 L142.10,136.11 L142.50,136.01 L142.90,135.87 L143.30,135.69 L143.70,135.50 L144.10,135.27 L144.50,135.03 L144.90,134.77 L145.30,134.49 L145.70,134.19 L146.10,133.88 L146.50,133.53 L146.90,133.12 L147.30,132.66 L147.70,132.15 L148.10,131.62 L148.50,131.11 L148.90,130.61 L149.30,130.10 L149.70,129.60 L150.10,129.13 L150.50,128.80 L150.90,128.46 L151.30,128.11 L151.70,127.76 L152.10,127.39 L152.50,127.01 L152.90,126.62 L153.30,126.22 L153.70,125.81 L154.10,125.38 L154.50,124.93 L154.90,124.48 L155.30,124.01 L155.70,123.52 L156.10,123.02 L156.50,122.53 L156.90,122.05 L157.30,121.58 L157.70,121.13 L158.10,120.72 L158.50,120.33 L158.90,119.92 L159.30,119.48 L159.70,119.02 L160.10,118.55 L160.50,118.08 L160.90,117.62 L161.30,117.19 L161.70,116.78 L162.10,116.39 L162.50,116.04 L162.90,115.73 L163.30,115.46 L163.70,115.23 L164.10,115.04 L164.50,114.89 L164.90,114.76 L165.30,114.67 L165.70,114.62 L166.10,114.46 L166.50,113.89 L166.90,113.33 L167.30,112.78 L167.70,112.22 L168.10,111.65 L168.50,111.08 L168.90,110.52 L169.30,109.99 L169.70,109.49 L170.10,109.03 L170.50,108.63 L170.90,108.29 L171.30,108.02 L171.70,107.81 L172.10,107.65 L172.50,107.53 L172.90,107.44 L173.30,107.39 L173.70,107.37 L174.10,107.38 L174.50,107.40 L174.90,107.44 L175.30,107.53 L175.70,107.65 L176.10,107.80 L176.50,107.99 L176.90,108.21 L177.30,108.45 L177.70,108.72 L178.10,109.02 L178.50,109.35 L178.90,109.72 L179.30,110.12 L179.70,110.53 L180.10,110.96 L180.50,111.40 L180.90,111.83 L181.30,112.25 L181.70,112.66 L182.10,113.05 L182.50,113.42 L182.90,113.79 L183.30,114.15 L183.70,114.51 L184.10,114.86 L184.50,115.22 L184.90,115.57 L185.30,115.92 L185.70,116.27 L186.10,116.62 L186.50,116.96 L186.90,117.30 L187.30,117.63 L187.70,117.95 L188.10,118.27 L188.50,118.60 L188.90,118.93 L189.30,119.27 L189.70,119.63 L190.10,120.00 L190.50,120.37 L190.90,120.74 L191.30,121.10 L191.70,121.45 L192.10,121.80 L192.50,122.15 L192.90,122.50 L193.30,122.86 L193.70,123.25 L194.10,123.64 L194.50,124.04 L194.90,124.47 L195.30,124.95 L195.70,125.49 L196.10,126.07 L196.50,126.68 L196.90,127.31 L197.30,127.96 L197.70,128.62 L198.10,129.30 L198.50,129.98 L198.90,130.68 L199.30,131.39 L199.70,132.10 L200.10,132.80 L200.50,133.51 L200.90,134.24 L201.30,134.98 L201.70,135.75 L202.10,136.56 L202.50,137.42 L202.90,138.34 L203.30,139.37 L203.70,140.51 L204.10,141.73 L204.50,143.01 L204.90,144.30 L205.30,145.58 L205.70,146.80 L206.10,147.90 L206.50,148.87 L206.90,149.73 L207.30,150.50 L207.70,151.20 L208.10,151.89 L208.50,152.59 L208.90,153.30 L209.30,154.00 L209.70,154.68 L210.10,155.35 L210.50,156.01 L210.90,156.67 L211.30,157.34 L211.70,158.02 L212.10,158.72 L212.50,159.44 L212.90,160.14 L213.30,160.79 L213.70,161.40 L214.10,161.99 L214.50,162.56 L214.90,163.10 L215.30,163.61 L215.70,164.07 L216.10,164.50 L216.50,164.90 L216.90,165.27 L217.30,165.62 L217.70,165.96 L218.10,166.29 L218.50,166.62 L218.90,166.93 L219.30,167.25 L219.70,167.55 L220.10,167.85 L220.50,168.13 L220.90,168.40 L221.30,168.66 L221.70,168.91 L222.10,169.16 L222.50,169.40 L222.90,169.64 L223.30,169.90 L223.70,170.14 L224.10,170.36 L224.50,170.54 L224.90,170.71 L225.30,170.87 L225.70,171.03 L226.10,171.18 L226.50,171.34 L226.90,171.49 L227.30,171.63 L227.70,171.77 L228.10,171.91 L228.50,172.03 L228.90,172.16 L229.30,172.27 L229.70,172.38 L230.10,172.48 L230.50,172.57 L230.90,172.66 L231.30,172.75 L231.70,172.83 L232.10,172.90 L232.50,172.97 L232.90,173.03 L233.30,173.10 L233.70,173.15 L234.10,173.21 L234.50,173.26 L234.90,173.31 L235.30,173.36 L235.70,173.41 L236.10,173.45 L236.50,173.50 L236.90,173.54 L237.30,173.58 L237.70,173.62 L238.10,173.66 L238.50,173.69 L238.90,173.73 L239.30,173.77 L239.70,173.80 L240.10,173.83 L240.50,173.87 L240.90,173.90 L241.30,173.93 L241.70,173.96 L242.10,173.99 L242.50,174.02 L242.90,174.05 L243.30,174.08 L243.70,174.11 L244.10,174.14 L244.50,174.17 L244.90,174.20 L245.30,174.22 L245.70,174.25 L246.10,174.27 L246.50,174.30 L246.90,174.32 L247.30,174.34 L247.70,174.36 L248.10,174.38 L248.50,174.40 L248.90,174.42 L249.30,174.44 L249.70,174.46 L250.10,174.48 L250.50,174.49 L250.90,174.51 L251.30,174.53 L251.70,174.54 L252.10,174.56 L252.50,174.58 L252.90,174.59 L253.30,174.61 L253.70,174.62 L254.10,174.64 L254.50,174.66 L254.90,174.67 L255.30,174.69 L255.70,174.70 L256.10,174.72 L256.50,174.73 L256.90,174.75 L257.30,174.76 L257.70,174.78" stroke="#5a5a5a" stroke-width="0.9" stroke-dasharray="3 0.7"/>
<path d="M118.50,56.78 L118.90,64.46 L119.30,72.35 L119.70,77.55 L120.10,81.68 L120.50,85.19 L120.90,88.33 L121.30,91.24 L121.70,93.99 L122.10,96.61 L122.50,99.08 L122.90,101.38 L123.30,103.53 L123.70,105.56 L124.10,107.47 L124.50,109.30 L124.90,111.04 L125.30,112.71 L125.70,114.30 L126.10,115.83 L126.50,117.28 L126.90,118.66 L127.30,119.98 L127.70,121.23 L128.10,122.43 L128.50,123.56 L128.90,124.64 L129.30,125.66 L129.70,126.63 L130.10,127.54 L130.50,128.41 L130.90,129.25 L131.30,130.06 L131.70,130.83 L132.10,131.56 L132.50,132.24 L132.90,132.87 L133.30,133.46 L133.70,134.00 L134.10,134.49 L134.50,134.92 L134.90,135.30 L135.30,135.56 L135.70,135.76 L136.10,135.92 L136.50,136.06 L136.90,136.18 L137.30,136.28 L137.70,136.37 L138.10,136.45 L138.50,136.53 L138.90,136.59 L139.30,136.64 L139.70,136.66 L140.10,136.67 L140.50,136.64 L140.90,136.60 L141.30,136.51 L141.70,136.40 L142.10,136.27 L142.50,136.17 L142.90,136.03 L143.30,135.86 L143.70,135.66 L144.10,135.44 L144.50,135.20 L144.90,134.94 L145.30,134.66 L145.70,134.37 L146.10,134.06 L146.50,133.71 L146.90,133.31 L147.30,132.85 L147.70,132.34 L148.10,131.82 L148.50,131.31 L148.90,130.82 L149.30,130.32 L149.70,129.82 L150.10,129.36 L150.50,129.05 L150.90,128.74 L151.30,128.43 L151.70,128.10 L152.10,127.77 L152.50,127.42 L152.90,127.07 L153.30,126.70 L153.70,126.33 L154.10,125.94 L154.50,125.54 L154.90,125.13 L155.30,124.71 L155.70,124.27 L156.10,123.84 L156.50,123.40 L156.90,122.98 L157.30,122.58 L157.70,122.20 L158.10,121.86 L158.50,121.53 L158.90,121.20 L159.30,120.84 L159.70,120.47 L160.10,120.10 L160.50,119.73 L160.90,119.38 L161.30,119.05 L161.70,118.75 L162.10,118.49 L162.50,118.27 L162.90,118.09 L163.30,117.95 L163.70,117.86 L164.10,117.81 L164.50,117.80 L164.90,117.83 L165.30,117.89 L165.70,118.00 L166.10,117.98 L166.50,117.51 L166.90,117.05 L167.30,116.59 L167.70,116.13 L168.10,115.67 L168.50,115.20 L168.90,114.75 L169.30,114.32 L169.70,113.92 L170.10,113.55 L170.50,113.23 L170.90,112.97 L171.30,112.76 L171.70,112.59 L172.10,112.47 L172.50,112.38 L172.90,112.32 L173.30,112.30 L173.70,112.29 L174.10,112.32 L174.50,112.36 L174.90,112.42 L175.30,112.51 L175.70,112.64 L176.10,112.80 L176.50,112.99 L176.90,113.20 L177.30,113.45 L177.70,113.72 L178.10,114.02 L178.50,114.36 L178.90,114.73 L179.30,115.13 L179.70,115.55 L180.10,115.98 L180.50,116.42 L180.90,116.86 L181.30,117.30 L181.70,117.72 L182.10,118.12 L182.50,118.50 L182.90,118.89 L183.30,119.26 L183.70,119.64 L184.10,120.01 L184.50,120.39 L184.90,120.76 L185.30,121.14 L185.70,121.52 L186.10,121.90 L186.50,122.27 L186.90,122.65 L187.30,123.02 L187.70,123.39 L188.10,123.77 L188.50,124.16 L188.90,124.56 L189.30,124.96 L189.70,125.38 L190.10,125.82 L190.50,126.25 L190.90,126.68 L191.30,127.11 L191.70,127.53 L192.10,127.94 L192.50,128.35 L192.90,128.75 L193.30,129.17 L193.70,129.60 L194.10,130.03 L194.50,130.48 L194.90,130.94 L195.30,131.44 L195.70,131.98 L196.10,132.54 L196.50,133.13 L196.90,133.73 L197.30,134.34 L197.70,134.95 L198.10,135.57 L198.50,136.20 L198.90,136.83 L199.30,137.46 L199.70,138.09 L200.10,138.72 L200.50,139.34 L200.90,139.98 L201.30,140.63 L201.70,141.30 L202.10,141.99 L202.50,142.73 L202.90,143.51 L203.30,144.36 L203.70,145.31 L204.10,146.31 L204.50,147.35 L204.90,148.41 L205.30,149.45 L205.70,150.45 L206.10,151.35 L206.50,152.15 L206.90,152.88 L207.30,153.53 L207.70,154.13 L208.10,154.71 L208.50,155.31 L208.90,155.92 L209.30,156.50 L209.70,157.08 L210.10,157.65 L210.50,158.21 L210.90,158.77 L211.30,159.33 L211.70,159.90 L212.10,160.49 L212.50,161.09 L212.90,161.67 L213.30,162.21 L213.70,162.72 L214.10,163.22 L214.50,163.69 L214.90,164.15 L215.30,164.58 L215.70,164.97 L216.10,165.34 L216.50,165.68 L216.90,166.00 L217.30,166.31 L217.70,166.61 L218.10,166.90 L218.50,167.19 L218.90,167.47 L219.30,167.75 L219.70,168.02 L220.10,168.29 L220.50,168.54 L220.90,168.79 L221.30,169.02 L221.70,169.25 L222.10,169.47 L222.50,169.69 L222.90,169.92 L223.30,170.15 L223.70,170.37 L224.10,170.56 L224.50,170.74 L224.90,170.90 L225.30,171.05 L225.70,171.20 L226.10,171.35 L226.50,171.50 L226.90,171.65 L227.30,171.79 L227.70,171.92 L228.10,172.06 L228.50,172.18 L228.90,172.30 L229.30,172.41 L229.70,172.51 L230.10,172.61 L230.50,172.70 L230.90,172.79 L231.30,172.87 L231.70,172.94 L232.10,173.01 L232.50,173.08 L232.90,173.14 L233.30,173.20 L233.70,173.25 L234.10,173.31 L234.50,173.36 L234.90,173.41 L235.30,173.45 L235.70,173.50 L236.10,173.54 L236.50,173.59 L236.90,173.63 L237.30,173.67 L237.70,173.70 L238.10,173.74 L238.50,173.78 L238.90,173.81 L239.30,173.85 L239.70,173.88 L240.10,173.92 L240.50,173.95 L240.90,173.98 L241.30,174.01 L241.70,174.04 L242.10,174.07 L242.50,174.10 L242.90,174.13 L243.30,174.16 L243.70,174.19 L244.10,174.22 L244.50,174.25 L244.90,174.28 L245.30,174.31 L245.70,174.33 L246.10,174.36 L246.50,174.38 L246.90,174.40 L247.30,174.43 L247.70,174.45 L248.10,174.47 L248.50,174.49 L248.90,174.51 L249.30,174.53 L249.70,174.55 L250.10,174.57 L250.50,174.59 L250.90,174.61 L251.30,174.63 L251.70,174.64 L252.10,174.66 L252.50,174.68 L252.90,174.70 L253.30,174.72 L253.70,174.73 L254.10,174.75 L254.50,174.77 L254.90,174.78 L255.30,174.80 L255.70,174.82 L256.10,174.83 L256.50,174.85 L256.90,174.87 L257.30,174.89 L257.70,174.90" stroke="#5a5a5a" stroke-width="0.9" stroke-dasharray="3 0.7"/>
<path d="M118.50,57.58 L118.90,65.18 L119.30,72.94 L119.70,78.15 L120.10,82.32 L120.50,85.85 L120.90,88.97 L121.30,91.87 L121.70,94.60 L122.10,97.20 L122.50,99.66 L122.90,101.95 L123.30,104.09 L123.70,106.11 L124.10,108.03 L124.50,109.86 L124.90,111.61 L125.30,113.28 L125.70,114.88 L126.10,116.41 L126.50,117.86 L126.90,119.24 L127.30,120.55 L127.70,121.79 L128.10,122.97 L128.50,124.09 L128.90,125.16 L129.30,126.16 L129.70,127.12 L130.10,128.01 L130.50,128.87 L130.90,129.70 L131.30,130.50 L131.70,131.26 L132.10,131.97 L132.50,132.65 L132.90,133.27 L133.30,133.85 L133.70,134.38 L134.10,134.86 L134.50,135.28 L134.90,135.65 L135.30,135.90 L135.70,136.09 L136.10,136.24 L136.50,136.37 L136.90,136.47 L137.30,136.56 L137.70,136.64 L138.10,136.72 L138.50,136.78 L138.90,136.84 L139.30,136.87 L139.70,136.89 L140.10,136.88 L140.50,136.85 L140.90,136.79 L141.30,136.70 L141.70,136.57 L142.10,136.44 L142.50,136.34 L142.90,136.20 L143.30,136.03 L143.70,135.83 L144.10,135.61 L144.50,135.37 L144.90,135.12 L145.30,134.84 L145.70,134.55 L146.10,134.24 L146.50,133.90 L146.90,133.50 L147.30,133.04 L147.70,132.54 L148.10,132.02 L148.50,131.52 L148.90,131.03 L149.30,130.54 L149.70,130.04 L150.10,129.59 L150.50,129.31 L150.90,129.03 L151.30,128.74 L151.70,128.45 L152.10,128.14 L152.50,127.83 L152.90,127.52 L153.30,127.19 L153.70,126.85 L154.10,126.50 L154.50,126.15 L154.90,125.79 L155.30,125.41 L155.70,125.03 L156.10,124.65 L156.50,124.28 L156.90,123.92 L157.30,123.58 L157.70,123.26 L158.10,122.99 L158.50,122.74 L158.90,122.48 L159.30,122.20 L159.70,121.92 L160.10,121.64 L160.50,121.37 L160.90,121.13 L161.30,120.91 L161.70,120.73 L162.10,120.59 L162.50,120.49 L162.90,120.44 L163.30,120.43 L163.70,120.48 L164.10,120.57 L164.50,120.71 L164.90,120.89 L165.30,121.11 L165.70,121.38 L166.10,121.51 L166.50,121.13 L166.90,120.76 L167.30,120.40 L167.70,120.04 L168.10,119.68 L168.50,119.32 L168.90,118.98 L169.30,118.65 L169.70,118.35 L170.10,118.07 L170.50,117.84 L170.90,117.64 L171.30,117.49 L171.70,117.37 L172.10,117.29 L172.50,117.23 L172.90,117.20 L173.30,117.20 L173.70,117.22 L174.10,117.25 L174.50,117.31 L174.90,117.39 L175.30,117.50 L175.70,117.63 L176.10,117.80 L176.50,117.99 L176.90,118.20 L177.30,118.44 L177.70,118.72 L178.10,119.03 L178.50,119.37 L178.90,119.74 L179.30,120.14 L179.70,120.57 L180.10,121.00 L180.50,121.45 L180.90,121.90 L181.30,122.34 L181.70,122.77 L182.10,123.19 L182.50,123.59 L182.90,123.99 L183.30,124.38 L183.70,124.77 L184.10,125.17 L184.50,125.56 L184.90,125.96 L185.30,126.36 L185.70,126.77 L186.10,127.17 L186.50,127.59 L186.90,128.00 L187.30,128.42 L187.70,128.84 L188.10,129.28 L188.50,129.72 L188.90,130.18 L189.30,130.65 L189.70,131.14 L190.10,131.64 L190.50,132.13 L190.90,132.63 L191.30,133.12 L191.70,133.60 L192.10,134.08 L192.50,134.55 L192.90,135.01 L193.30,135.47 L193.70,135.95 L194.10,136.43 L194.50,136.91 L194.90,137.41 L195.30,137.93 L195.70,138.47 L196.10,139.02 L196.50,139.59 L196.90,140.15 L197.30,140.72 L197.70,141.29 L198.10,141.85 L198.50,142.41 L198.90,142.97 L199.30,143.53 L199.70,144.08 L200.10,144.63 L200.50,145.17 L200.90,145.72 L201.30,146.28 L201.70,146.84 L202.10,147.43 L202.50,148.03 L202.90,148.67 L203.30,149.36 L203.70,150.10 L204.10,150.88 L204.50,151.69 L204.90,152.51 L205.30,153.32 L205.70,154.09 L206.10,154.80 L206.50,155.44 L206.90,156.02 L207.30,156.56 L207.70,157.05 L208.10,157.54 L208.50,158.03 L208.90,158.53 L209.30,159.01 L209.70,159.48 L210.10,159.95 L210.50,160.41 L210.90,160.87 L211.30,161.32 L211.70,161.78 L212.10,162.26 L212.50,162.73 L212.90,163.20 L213.30,163.64 L213.70,164.04 L214.10,164.44 L214.50,164.83 L214.90,165.20 L215.30,165.55 L215.70,165.87 L216.10,166.18 L216.50,166.47 L216.90,166.74 L217.30,167.00 L217.70,167.26 L218.10,167.51 L218.50,167.76 L218.90,168.00 L219.30,168.25 L219.70,168.49 L220.10,168.72 L220.50,168.95 L220.90,169.17 L221.30,169.38 L221.70,169.59 L222.10,169.79 L222.50,169.99 L222.90,170.19 L223.30,170.39 L223.70,170.59 L224.10,170.77 L224.50,170.93 L224.90,171.08 L225.30,171.23 L225.70,171.37 L226.10,171.52 L226.50,171.66 L226.90,171.80 L227.30,171.94 L227.70,172.08 L228.10,172.20 L228.50,172.32 L228.90,172.44 L229.30,172.55 L229.70,172.64 L230.10,172.74 L230.50,172.83 L230.90,172.91 L231.30,172.98 L231.70,173.06 L232.10,173.12 L232.50,173.19 L232.90,173.25 L233.30,173.30 L233.70,173.36 L234.10,173.41 L234.50,173.46 L234.90,173.50 L235.30,173.55 L235.70,173.59 L236.10,173.63 L236.50,173.67 L236.90,173.71 L237.30,173.75 L237.70,173.79 L238.10,173.83 L238.50,173.86 L238.90,173.90 L239.30,173.93 L239.70,173.96 L240.10,174.00 L240.50,174.03 L240.90,174.06 L241.30,174.09 L241.70,174.12 L242.10,174.15 L242.50,174.19 L242.90,174.22 L243.30,174.25 L243.70,174.28 L244.10,174.30 L244.50,174.33 L244.90,174.36 L245.30,174.39 L245.70,174.42 L246.10,174.44 L246.50,174.47 L246.90,174.49 L247.30,174.51 L247.70,174.54 L248.10,174.56 L248.50,174.58 L248.90,174.60 L249.30,174.63 L249.70,174.65 L250.10,174.67 L250.50,174.69 L250.90,174.71 L251.30,174.73 L251.70,174.75 L252.10,174.77 L252.50,174.78 L252.90,174.80 L253.30,174.82 L253.70,174.84 L254.10,174.86 L254.50,174.88 L254.90,174.90 L255.30,174.91 L255.70,174.93 L256.10,174.95 L256.50,174.97 L256.90,174.99 L257.30,175.01 L257.70,175.03" stroke="#5a5a5a" stroke-width="0.9" stroke-dasharray="3 0.7"/>
<path d="M118.50,58.38 L118.90,65.88 L119.30,73.52 L119.70,78.75 L120.10,82.96 L120.50,86.49 L120.90,89.61 L121.30,92.50 L121.70,95.21 L122.10,97.79 L122.50,100.23 L122.90,102.51 L123.30,104.65 L123.70,106.66 L124.10,108.58 L124.50,110.42 L124.90,112.17 L125.30,113.85 L125.70,115.46 L126.10,116.98 L126.50,118.43 L126.90,119.81 L127.30,121.11 L127.70,122.34 L128.10,123.51 L128.50,124.62 L128.90,125.67 L129.30,126.66 L129.70,127.59 L130.10,128.48 L130.50,129.33 L130.90,130.14 L131.30,130.93 L131.70,131.68 L132.10,132.39 L132.50,133.05 L132.90,133.66 L133.30,134.23 L133.70,134.75 L134.10,135.22 L134.50,135.64 L134.90,136.01 L135.30,136.24 L135.70,136.42 L136.10,136.56 L136.50,136.67 L136.90,136.77 L137.30,136.85 L137.70,136.91 L138.10,136.98 L138.50,137.03 L138.90,137.08 L139.30,137.10 L139.70,137.10 L140.10,137.09 L140.50,137.04 L140.90,136.97 L141.30,136.87 L141.70,136.74 L142.10,136.60 L142.50,136.50 L142.90,136.36 L143.30,136.19 L143.70,136.00 L144.10,135.78 L144.50,135.54 L144.90,135.29 L145.30,135.01 L145.70,134.72 L146.10,134.42 L146.50,134.08 L146.90,133.68 L147.30,133.23 L147.70,132.73 L148.10,132.22 L148.50,131.72 L148.90,131.24 L149.30,130.75 L149.70,130.25 L150.10,129.82 L150.50,129.56 L150.90,129.31 L151.30,129.05 L151.70,128.79 L152.10,128.52 L152.50,128.24 L152.90,127.96 L153.30,127.67 L153.70,127.37 L154.10,127.06 L154.50,126.75 L154.90,126.43 L155.30,126.11 L155.70,125.78 L156.10,125.45 L156.50,125.14 L156.90,124.84 L157.30,124.56 L157.70,124.32 L158.10,124.11 L158.50,123.93 L158.90,123.74 L159.30,123.55 L159.70,123.35 L160.10,123.17 L160.50,123.00 L160.90,122.86 L161.30,122.75 L161.70,122.68 L162.10,122.66 L162.50,122.69 L162.90,122.76 L163.30,122.89 L163.70,123.07 L164.10,123.30 L164.50,123.59 L164.90,123.92 L165.30,124.29 L165.70,124.72 L166.10,124.99 L166.50,124.71 L166.90,124.44 L167.30,124.17 L167.70,123.90 L168.10,123.65 L168.50,123.39 L168.90,123.15 L169.30,122.93 L169.70,122.72 L170.10,122.54 L170.50,122.38 L170.90,122.26 L171.30,122.16 L171.70,122.09 L172.10,122.05 L172.50,122.02 L172.90,122.02 L173.30,122.04 L173.70,122.08 L174.10,122.13 L174.50,122.21 L174.90,122.30 L175.30,122.42 L175.70,122.56 L176.10,122.73 L176.50,122.92 L176.90,123.14 L177.30,123.38 L177.70,123.66 L178.10,123.97 L178.50,124.32 L178.90,124.69 L179.30,125.10 L179.70,125.52 L180.10,125.96 L180.50,126.41 L180.90,126.87 L181.30,127.32 L181.70,127.76 L182.10,128.19 L182.50,128.61 L182.90,129.02 L183.30,129.43 L183.70,129.85 L184.10,130.26 L184.50,130.67 L184.90,131.09 L185.30,131.52 L185.70,131.95 L186.10,132.39 L186.50,132.84 L186.90,133.29 L187.30,133.75 L187.70,134.22 L188.10,134.71 L188.50,135.22 L188.90,135.74 L189.30,136.28 L189.70,136.82 L190.10,137.38 L190.50,137.94 L190.90,138.50 L191.30,139.05 L191.70,139.60 L192.10,140.14 L192.50,140.67 L192.90,141.18 L193.30,141.70 L193.70,142.22 L194.10,142.74 L194.50,143.27 L194.90,143.80 L195.30,144.34 L195.70,144.88 L196.10,145.42 L196.50,145.97 L196.90,146.50 L197.30,147.03 L197.70,147.54 L198.10,148.05 L198.50,148.55 L198.90,149.04 L199.30,149.52 L199.70,150.00 L200.10,150.47 L200.50,150.93 L200.90,151.39 L201.30,151.85 L201.70,152.32 L202.10,152.79 L202.50,153.27 L202.90,153.77 L203.30,154.29 L203.70,154.84 L204.10,155.40 L204.50,155.98 L204.90,156.56 L205.30,157.14 L205.70,157.69 L206.10,158.21 L206.50,158.69 L206.90,159.13 L207.30,159.55 L207.70,159.94 L208.10,160.33 L208.50,160.72 L208.90,161.11 L209.30,161.48 L209.70,161.85 L210.10,162.22 L210.50,162.58 L210.90,162.94 L211.30,163.29 L211.70,163.65 L212.10,164.00 L212.50,164.36 L212.90,164.71 L213.30,165.04 L213.70,165.35 L214.10,165.66 L214.50,165.95 L214.90,166.24 L215.30,166.51 L215.70,166.76 L216.10,167.01 L216.50,167.24 L216.90,167.47 L217.30,167.69 L217.70,167.90 L218.10,168.11 L218.50,168.32 L218.90,168.53 L219.30,168.74 L219.70,168.95 L220.10,169.15 L220.50,169.35 L220.90,169.55 L221.30,169.74 L221.70,169.92 L222.10,170.10 L222.50,170.28 L222.90,170.46 L223.30,170.64 L223.70,170.81 L224.10,170.97 L224.50,171.12 L224.90,171.26 L225.30,171.40 L225.70,171.54 L226.10,171.68 L226.50,171.82 L226.90,171.96 L227.30,172.10 L227.70,172.23 L228.10,172.35 L228.50,172.47 L228.90,172.58 L229.30,172.68 L229.70,172.78 L230.10,172.87 L230.50,172.95 L230.90,173.03 L231.30,173.10 L231.70,173.17 L232.10,173.23 L232.50,173.29 L232.90,173.35 L233.30,173.40 L233.70,173.45 L234.10,173.50 L234.50,173.55 L234.90,173.60 L235.30,173.64 L235.70,173.68 L236.10,173.72 L236.50,173.76 L236.90,173.80 L237.30,173.84 L237.70,173.87 L238.10,173.91 L238.50,173.94 L238.90,173.98 L239.30,174.01 L239.70,174.05 L240.10,174.08 L240.50,174.11 L240.90,174.14 L241.30,174.17 L241.70,174.20 L242.10,174.23 L242.50,174.27 L242.90,174.30 L243.30,174.33 L243.70,174.36 L244.10,174.39 L244.50,174.42 L244.90,174.44 L245.30,174.47 L245.70,174.50 L246.10,174.53 L246.50,174.55 L246.90,174.58 L247.30,174.60 L247.70,174.63 L248.10,174.65 L248.50,174.67 L248.90,174.69 L249.30,174.72 L249.70,174.74 L250.10,174.76 L250.50,174.78 L250.90,174.80 L251.30,174.82 L251.70,174.85 L252.10,174.87 L252.50,174.89 L252.90,174.91 L253.30,174.93 L253.70,174.95 L254.10,174.97 L254.50,174.99 L254.90,175.01 L255.30,175.03 L255.70,175.05 L256.10,175.06 L256.50,175.08 L256.90,175.10 L257.30,175.13 L257.70,175.15" stroke="#5a5a5a" stroke-width="0.9" stroke-dasharray="3 0.7"/>
<path d="M118.00,30.00 C118.00,31.25 117.95,35.00 118.00,37.50 C118.05,40.00 118.13,41.25 118.30,45.00 C118.47,48.75 118.78,55.67 119.00,60.00 C119.22,64.33 119.18,66.50 119.60,71.00 C120.02,75.50 120.83,82.17 121.50,87.00 C122.17,91.83 122.77,95.83 123.60,100.00 C124.43,104.17 125.43,108.17 126.50,112.00 C127.57,115.83 128.75,119.83 130.00,123.00 C131.25,126.17 132.67,129.17 134.00,131.00 C135.33,132.83 136.67,133.37 138.00,134.00 C139.33,134.63 140.67,135.05 142.00,134.80 C143.33,134.55 144.90,133.42 146.00,132.50 C147.10,131.58 147.60,130.63 148.60,129.30 C149.60,127.97 150.97,126.15 152.00,124.50 C153.03,122.85 153.88,121.32 154.80,119.40 C155.72,117.48 156.67,115.07 157.50,113.00 C158.33,110.93 158.80,110.05 159.80,107.00 C160.80,103.95 162.27,98.82 163.50,94.70 C164.73,90.58 165.97,86.33 167.20,82.30 C168.43,78.27 169.67,73.00 170.90,70.50 C172.13,68.00 173.42,67.63 174.60,67.30 C175.78,66.97 176.77,67.72 178.00,68.50 C179.23,69.28 180.58,71.08 182.00,72.00 C183.42,72.92 185.17,73.83 186.50,74.00 C187.83,74.17 188.83,73.35 190.00,73.00 C191.17,72.65 192.50,71.82 193.50,71.90 C194.50,71.98 195.05,71.82 196.00,73.50 C196.95,75.18 198.05,78.15 199.20,82.00 C200.35,85.85 201.75,90.27 202.90,96.60 C204.05,102.93 205.17,114.33 206.10,120.00 C207.03,125.67 207.60,126.93 208.50,130.60 C209.40,134.27 210.67,138.77 211.50,142.00 C212.33,145.23 212.75,147.42 213.50,150.00 C214.25,152.58 215.00,155.25 216.00,157.50 C217.00,159.75 218.42,161.92 219.50,163.50 C220.58,165.08 221.52,166.00 222.50,167.00 C223.48,168.00 223.65,168.63 225.40,169.50 C227.15,170.37 229.83,171.53 233.00,172.20 C236.17,172.87 240.23,173.23 244.40,173.50 C248.57,173.77 255.73,173.75 258.00,173.80" stroke="#0000ff" stroke-width="1.5"/>
<path d="M116.60,30.00 C116.65,31.40 116.80,35.90 116.90,38.40 C117.00,40.90 117.08,41.73 117.20,45.00 C117.32,48.27 117.42,53.67 117.60,58.00 C117.78,62.33 118.02,66.50 118.30,71.00 C118.58,75.50 118.92,80.17 119.30,85.00 C119.68,89.83 119.92,94.83 120.60,100.00 C121.28,105.17 122.35,110.83 123.40,116.00 C124.45,121.17 125.63,127.17 126.90,131.00 C128.17,134.83 129.65,137.00 131.00,139.00 C132.35,141.00 133.40,142.02 135.00,143.00 C136.60,143.98 138.77,144.82 140.60,144.90 C142.43,144.98 144.10,144.40 146.00,143.50 C147.90,142.60 150.00,141.00 152.00,139.50 C154.00,138.00 156.00,136.08 158.00,134.50 C160.00,132.92 161.85,131.17 164.00,130.00 C166.15,128.83 168.73,127.70 170.90,127.50 C173.07,127.30 175.10,127.70 177.00,128.80 C178.90,129.90 180.53,132.20 182.30,134.10 C184.07,136.00 185.83,137.85 187.60,140.20 C189.37,142.55 191.13,145.70 192.90,148.20 C194.67,150.70 196.15,153.00 198.20,155.20 C200.25,157.40 202.85,159.58 205.20,161.40 C207.55,163.22 209.95,164.78 212.30,166.10 C214.65,167.42 217.18,168.40 219.30,169.30 C221.42,170.20 222.93,170.83 225.00,171.50 C227.07,172.17 228.47,172.80 231.70,173.30 C234.93,173.80 240.02,174.17 244.40,174.50 C248.78,174.83 255.73,175.17 258.00,175.30" stroke="#ff0000" stroke-width="1.5"/>
</g>
<rect x="116.9" y="38.35" width="140.70000000000002" height="143.45000000000002" fill="none" stroke="#000" stroke-width="1.4"/>
<g stroke="#000" stroke-width="1.2">
<line x1="131.90" y1="181.8" x2="131.90" y2="177.8"/>
<line x1="147.47" y1="181.8" x2="147.47" y2="179.20000000000002"/>
<line x1="163.05" y1="181.8" x2="163.05" y2="177.8"/>
<line x1="178.62" y1="181.8" x2="178.62" y2="179.20000000000002"/>
<line x1="194.20" y1="181.8" x2="194.20" y2="177.8"/>
<line x1="209.78" y1="181.8" x2="209.78" y2="179.20000000000002"/>
<line x1="225.35" y1="181.8" x2="225.35" y2="177.8"/>
<line x1="240.93" y1="181.8" x2="240.93" y2="179.20000000000002"/>
<line x1="116.9" y1="148.65" x2="119.5" y2="148.65"/>
<line x1="116.9" y1="131.80" x2="120.9" y2="131.80"/>
<line x1="116.9" y1="114.95" x2="119.5" y2="114.95"/>
<line x1="116.9" y1="98.10" x2="120.9" y2="98.10"/>
<line x1="116.9" y1="81.25" x2="119.5" y2="81.25"/>
<line x1="116.9" y1="64.40" x2="120.9" y2="64.40"/>
<line x1="116.9" y1="47.55" x2="119.5" y2="47.55"/>
</g>
<line x1="121.1" y1="154.4" x2="145.4" y2="154.4" stroke="#ff0000" stroke-width="1.7"/>
<line x1="121.1" y1="170.4" x2="145.4" y2="170.4" stroke="#0000ff" stroke-width="1.7"/>
<line x1="222.7" y1="87" x2="222.7" y2="149.3" stroke="#000" stroke-width="1.2"/>
<path d="M222.7,81.8 L220.6,88.6 L224.8,88.6 Z" fill="#000"/>
<rect x="381" y="37.8" width="33.5" height="201.3" fill="#d3d3d3"/>
<g clip-path="url(#cb)" fill="none" stroke-linejoin="round">
<path d="M313.50,67.00 L338.00,67.00 L345.00,68.00 L349.00,69.00 L351.50,70.50 L353.00,70.00 L356.00,68.50 L360.00,67.50 L370.00,66.50 L380.00,65.80 L385.00,65.30 L388.60,70.40 L390.30,75.80 L391.40,86.20 L392.50,100.00 L393.50,110.00 L394.20,111.80 L395.20,108.00 L396.40,95.00 L397.40,86.20 L398.50,74.70 L399.50,78.00 L401.50,93.00 L402.50,85.00 L403.90,70.90 L406.60,67.60 L410.00,66.50 L415.00,66.00 L419.00,64.50 L423.00,62.70 L427.40,65.50 L432.00,65.50 L439.00,65.80 L444.90,70.20 L449.30,67.30 L451.00,70.00 L452.90,72.00 L454.50,74.00 L456.00,76.00 L458.00,80.00 L460.00,76.00 L461.00,75.00 L462.50,80.00 L465.50,82.00 L467.50,84.00 L469.50,85.00 L471.50,86.00 L474.00,88.00 L476.00,92.00 L477.50,88.00 L479.00,95.00 L480.50,105.00 L481.50,100.00 L483.60,100.00 L485.20,95.00 L486.70,77.40 L488.20,95.00 L489.50,100.00 L491.30,105.00 L493.00,100.00 L494.50,96.00 L497.30,95.00 L499.40,79.80 L501.00,88.00 L502.50,92.00 L504.50,95.00 L506.00,92.00 L507.50,85.00 L509.30,75.10 L510.70,82.00 L513.10,90.00 L515.00,95.00 L516.50,93.00 L518.20,98.00 L520.70,100.00 L522.70,96.00 L524.50,92.00 L526.00,96.00 L528.00,90.00 L530.00,95.00 L532.00,88.00 L534.00,93.00 L536.00,88.00 L538.00,84.00 L540.00,80.00 L542.50,82.00" stroke="#222" stroke-width="1.3" stroke-dasharray="1.3 2.3"/>
<line x1="458" y1="80" x2="458" y2="113" stroke="#1a1a1a" stroke-width="1.3" stroke-dasharray="1.3 2.1"/>
<line x1="465.5" y1="82" x2="465.5" y2="143" stroke="#1a1a1a" stroke-width="1.3" stroke-dasharray="1.3 2.1"/>
<line x1="474" y1="88" x2="474" y2="140" stroke="#1a1a1a" stroke-width="1.3" stroke-dasharray="1.3 2.1"/>
<line x1="483.6" y1="100" x2="483.6" y2="205" stroke="#1a1a1a" stroke-width="1.3" stroke-dasharray="1.3 2.1"/>
<line x1="491.3" y1="105" x2="491.3" y2="206" stroke="#1a1a1a" stroke-width="1.3" stroke-dasharray="1.3 2.1"/>
<line x1="497.3" y1="95" x2="497.3" y2="138" stroke="#1a1a1a" stroke-width="1.3" stroke-dasharray="1.3 2.1"/>
<line x1="504.5" y1="95" x2="504.5" y2="171" stroke="#1a1a1a" stroke-width="1.3" stroke-dasharray="1.3 2.1"/>
<line x1="513.1" y1="90" x2="513.1" y2="215" stroke="#1a1a1a" stroke-width="1.3" stroke-dasharray="1.3 2.1"/>
<line x1="520.7" y1="100" x2="520.7" y2="185.5" stroke="#1a1a1a" stroke-width="1.3" stroke-dasharray="1.3 2.1"/>
<path d="M313.50,49.90 L314.33,49.51 L315.17,49.12 L316.00,49.30 L317.00,49.72 L318.00,49.80 L319.00,48.93 L320.00,49.00 L320.90,49.04 L321.80,48.85 L322.70,49.00 L323.85,48.81 L325.00,49.60 L326.00,49.26 L327.00,48.90 L328.00,48.62 L329.00,49.29 L330.00,49.60 L331.00,48.88 L332.00,49.10 L332.82,48.85 L333.65,49.42 L334.48,50.06 L335.30,49.90 L336.27,49.52 L337.23,49.66 L338.20,50.00 L339.30,51.39 L340.40,52.50 L341.20,52.74 L342.00,52.00 L343.10,51.38 L344.20,50.60 L345.07,50.69 L345.93,51.52 L346.80,51.20 L348.20,55.30 L349.40,60.00 L350.60,66.40 L351.80,70.20 L353.30,65.50 L354.70,66.20 L355.60,66.40 L356.90,64.00 L358.20,61.30 L359.10,57.50 L360.70,55.00 L362.00,51.60 L362.95,50.90 L363.90,51.20 L364.88,51.42 L365.85,50.62 L366.82,50.28 L367.80,50.50 L368.90,49.83 L370.00,50.00 L370.90,49.66 L371.80,50.10 L372.70,49.27 L373.60,49.50 L374.45,49.51 L375.30,49.50 L376.15,49.13 L377.00,49.20 L378.00,49.05 L379.00,48.32 L380.00,48.60 L380.95,47.97 L381.90,47.98 L382.85,48.35 L383.80,48.00 L384.90,48.92 L386.00,50.00 L388.20,54.50 L389.80,60.00 L391.10,69.10 L392.50,78.00 L394.10,87.30 L395.50,80.00 L397.60,65.50 L399.50,58.90 L400.30,62.00 L401.70,72.00 L403.00,60.00 L403.50,56.00 L405.60,51.60 L406.55,49.60 L407.50,48.00 L408.40,47.34 L409.30,46.50 L410.15,47.20 L411.00,48.00 L412.00,47.28 L413.00,47.00 L414.00,48.07 L415.00,48.50 L416.00,48.22 L417.00,47.50 L418.00,47.72 L419.00,48.50 L420.00,44.70 L421.00,48.00 L422.50,46.00 L424.00,48.50 L425.00,48.08 L426.00,47.50 L427.00,48.28 L428.00,49.00 L429.00,49.08 L430.00,48.59 L431.00,48.00 L432.00,48.02 L433.00,48.50 L434.07,49.23 L435.13,48.48 L436.20,49.10 L437.13,49.48 L438.07,50.32 L439.00,50.50 L439.93,50.87 L440.85,51.99 L441.77,52.24 L442.70,53.50 L443.85,52.44 L445.00,51.00 L446.00,50.79 L447.00,50.00 L448.50,52.00 L450.00,57.50 L451.50,56.00 L453.00,58.50 L454.50,53.00 L456.00,55.00 L457.00,62.00" stroke="#ff0000" stroke-width="1.3"/>
<path d="M457.00,62.00 L458.50,92.00 L459.50,68.00 L460.70,58.10 L461.90,63.00 L463.50,85.00 L465.30,114.00 L466.80,85.00 L468.20,65.00 L470.20,57.30 L471.60,63.00 L472.60,80.00 L473.80,108.00 L474.60,85.00 L475.00,77.70 L475.80,80.00 L477.20,98.00 L477.90,80.00 L478.80,74.20 L479.80,85.00 L480.60,110.00 L481.50,95.00 L482.50,96.00 L483.30,156.00 L484.00,112.00 L485.30,90.00 L486.10,85.00 L487.00,90.00 L488.50,105.00 L490.20,108.00 L490.90,175.00 L491.60,122.00 L493.60,87.30 L494.60,95.00 L496.70,108.00 L497.50,90.00 L498.20,75.00 L499.40,68.70 L500.80,70.00 L502.20,85.00 L503.60,129.00 L504.80,90.00 L505.90,69.30 L507.00,70.00 L508.00,80.00 L509.00,72.00 L509.90,64.70 L511.60,80.00 L512.60,157.80 L513.50,112.00 L515.20,85.00 L516.20,80.00 L517.30,77.90 L518.30,85.00 L519.50,110.00 L520.60,124.60 L521.50,95.00 L522.30,80.40 L523.50,83.00 L524.70,86.50 L526.30,82.00 L527.90,78.50 L529.80,84.70 L532.80,79.80 L534.70,84.00 L536.50,78.50 L537.80,82.80 L539.60,73.60 L540.80,78.00 L542.50,88.00" stroke="#ff0000" stroke-width="1.45"/>
</g>
<rect x="313.5" y="37.8" width="229.0" height="201.3" fill="none" stroke="#000" stroke-width="1.4"/>
<g stroke="#000" stroke-width="1.2">
<line x1="513.23" y1="239.1" x2="513.23" y2="236.5"/>
<line x1="513.23" y1="37.8" x2="513.23" y2="40.4"/>
<line x1="495.07" y1="239.1" x2="495.07" y2="235.1"/>
<line x1="495.07" y1="37.8" x2="495.07" y2="41.8"/>
<line x1="476.92" y1="239.1" x2="476.92" y2="236.5"/>
<line x1="476.92" y1="37.8" x2="476.92" y2="40.4"/>
<line x1="458.76" y1="239.1" x2="458.76" y2="235.1"/>
<line x1="458.76" y1="37.8" x2="458.76" y2="41.8"/>
<line x1="440.60" y1="239.1" x2="440.60" y2="236.5"/>
<line x1="440.60" y1="37.8" x2="440.60" y2="40.4"/>
<line x1="422.44" y1="239.1" x2="422.44" y2="235.1"/>
<line x1="422.44" y1="37.8" x2="422.44" y2="41.8"/>
<line x1="404.29" y1="239.1" x2="404.29" y2="236.5"/>
<line x1="404.29" y1="37.8" x2="404.29" y2="40.4"/>
<line x1="386.13" y1="239.1" x2="386.13" y2="235.1"/>
<line x1="386.13" y1="37.8" x2="386.13" y2="41.8"/>
<line x1="367.97" y1="239.1" x2="367.97" y2="236.5"/>
<line x1="367.97" y1="37.8" x2="367.97" y2="40.4"/>
<line x1="349.81" y1="239.1" x2="349.81" y2="235.1"/>
<line x1="349.81" y1="37.8" x2="349.81" y2="41.8"/>
<line x1="331.66" y1="239.1" x2="331.66" y2="236.5"/>
<line x1="331.66" y1="37.8" x2="331.66" y2="40.4"/>
<line x1="531.39" y1="239.1" x2="531.39" y2="235.1"/>
<line x1="531.39" y1="37.8" x2="531.39" y2="41.8"/>
<line x1="313.5" y1="225.70" x2="316.1" y2="225.70"/>
<line x1="313.5" y1="212.22" x2="317.5" y2="212.22"/>
<line x1="313.5" y1="198.74" x2="316.1" y2="198.74"/>
<line x1="313.5" y1="185.25" x2="317.5" y2="185.25"/>
<line x1="313.5" y1="171.76" x2="316.1" y2="171.76"/>
<line x1="313.5" y1="158.28" x2="317.5" y2="158.28"/>
<line x1="313.5" y1="144.79" x2="316.1" y2="144.79"/>
<line x1="313.5" y1="131.31" x2="317.5" y2="131.31"/>
<line x1="313.5" y1="117.82" x2="316.1" y2="117.82"/>
<line x1="313.5" y1="104.34" x2="317.5" y2="104.34"/>
<line x1="313.5" y1="90.85" x2="316.1" y2="90.85"/>
<line x1="313.5" y1="77.37" x2="317.5" y2="77.37"/>
<line x1="313.5" y1="63.88" x2="316.1" y2="63.88"/>
<line x1="313.5" y1="50.40" x2="317.5" y2="50.40"/>
</g>
<line x1="320.9" y1="209.1" x2="345.2" y2="209.1" stroke="#ff0000" stroke-width="1.3"/>
<line x1="320.9" y1="225.1" x2="345.2" y2="225.1" stroke="#111" stroke-width="1.4" stroke-dasharray="1.3 2.3"/>
<g font-family="'Liberation Sans', Arial, sans-serif" font-weight="bold" stroke="#000" stroke-width="0.25">
<text stroke="#000" stroke-width="0.8" transform="translate(54.09,24.20) scale(0.701,1)" font-size="24.60" fill="#000" >a</text>
<text stroke="#000" stroke-width="0.6" transform="translate(323.00,24.20) scale(0.900,1)" font-size="23.60" fill="#000" >b</text>
<text transform="translate(20.41,244.60) scale(1.000,1)" font-size="10.00" fill="#000" >0.0</text>
<text transform="translate(20.28,187.30) scale(1.000,1)" font-size="10.00" fill="#000" >0.5</text>
<text transform="translate(20.41,130.00) scale(1.000,1)" font-size="10.00" fill="#000" >1.0</text>
<text transform="translate(20.28,72.70) scale(1.000,1)" font-size="10.00" fill="#000" >1.5</text>
<text transform="translate(30.09,254.80) scale(1.000,1)" font-size="10.00" fill="#000" >200</text>
<text transform="translate(68.20,254.80) scale(1.000,1)" font-size="10.00" fill="#000" >300</text>
<text transform="translate(106.29,254.80) scale(1.000,1)" font-size="10.00" fill="#000" >400</text>
<text transform="translate(144.26,254.80) scale(1.000,1)" font-size="10.00" fill="#000" >500</text>
<text transform="translate(182.28,254.80) scale(1.000,1)" font-size="10.00" fill="#000" >600</text>
<text transform="translate(220.30,254.80) scale(1.000,1)" font-size="10.00" fill="#000" >700</text>
<text transform="translate(258.40,254.80) scale(1.000,1)" font-size="10.00" fill="#000" >800</text>
<text transform="translate(111.99,276.80) scale(0.996,1)" font-size="10.20" fill="#000" >Wavelength / nm</text>
<text transform="translate(13.80,211.42) rotate(-90) scale(1.235,1)" font-size="10.49" stroke-width="0.1">Absorbance / arb. units</text>
<text transform="translate(75.10,56.43) rotate(-90) scale(1.388,1)" font-size="8.88" stroke-width="0.35">281</text>
<text transform="translate(94.10,195.88) rotate(-90) scale(1.389,1)" font-size="8.88" stroke-width="0.35">332</text>
<text transform="translate(166.95,215.30) scale(0.916,1)" font-size="10.60" fill="#000" >MLCT</text>
<text transform="translate(94.20,67.40) scale(1.000,1)" font-size="10.00" fill="#000" >0.16</text>
<text transform="translate(94.24,101.10) scale(1.000,1)" font-size="10.00" fill="#000" >0.12</text>
<text transform="translate(94.14,134.80) scale(1.000,1)" font-size="10.00" fill="#000" >0.08</text>
<text transform="translate(93.89,168.50) scale(1.000,1)" font-size="10.00" fill="#000" >0.04</text>
<text transform="translate(123.69,194.70) scale(0.970,1)" font-size="10.30" fill="#000" >400</text>
<text transform="translate(154.77,194.70) scale(0.970,1)" font-size="10.30" fill="#000" >500</text>
<text transform="translate(185.89,194.70) scale(0.970,1)" font-size="10.30" fill="#000" >600</text>
<text transform="translate(217.01,194.70) scale(0.970,1)" font-size="10.30" fill="#000" >700</text>
<text transform="translate(248.61,194.70) scale(0.970,1)" font-size="10.30" fill="#000" >800</text>
<text transform="translate(178.30,64.57) rotate(-90) scale(1.365,1)" font-size="8.88" stroke-width="0.35">539</text>
<text transform="translate(197.50,70.27) rotate(-90) scale(1.430,1)" font-size="8.88" stroke-width="0.35">600</text>
<text transform="translate(148.35,158.60) scale(0.979,1)" font-size="10.20" fill="#000" >298 K</text>
<text transform="translate(154.07,174.40) scale(0.971,1)" font-size="10.20" fill="#000" >78 K</text>
<text transform="translate(226.30,118.40) scale(0.896,1)" font-size="11.00" fill="#000" >ΔT</text>
<text transform="translate(295.51,54.50) scale(1.000,1)" font-size="10.00" fill="#000" >1.0</text>
<text transform="translate(295.47,81.47) scale(1.000,1)" font-size="10.00" fill="#000" >0.9</text>
<text transform="translate(295.41,108.44) scale(1.000,1)" font-size="10.00" fill="#000" >0.8</text>
<text transform="translate(295.54,135.41) scale(1.000,1)" font-size="10.00" fill="#000" >0.7</text>
<text transform="translate(295.46,162.38) scale(1.000,1)" font-size="10.00" fill="#000" >0.6</text>
<text transform="translate(295.38,189.35) scale(1.000,1)" font-size="10.00" fill="#000" >0.5</text>
<text transform="translate(295.15,216.32) scale(1.000,1)" font-size="10.00" fill="#000" >0.4</text>
<text transform="translate(295.46,243.29) scale(1.000,1)" font-size="10.00" fill="#000" >0.3</text>
<text transform="translate(523.10,253.90) scale(1.000,1)" font-size="10.00" fill="#000" >500</text>
<text transform="translate(483.84,253.90) scale(1.000,1)" font-size="10.00" fill="#000" >1000</text>
<text transform="translate(447.53,253.90) scale(1.000,1)" font-size="10.00" fill="#000" >1500</text>
<text transform="translate(411.35,253.90) scale(1.000,1)" font-size="10.00" fill="#000" >2000</text>
<text transform="translate(375.04,253.90) scale(1.000,1)" font-size="10.00" fill="#000" >2500</text>
<text transform="translate(338.78,253.90) scale(1.000,1)" font-size="10.00" fill="#000" >3000</text>
<text transform="translate(302.47,253.90) scale(1.000,1)" font-size="10.00" fill="#000" >3500</text>
<text transform="translate(378.69,277.20) scale(0.981,1)" font-size="10.20" fill="#000" >Wavenumbers / cm</text>
<text transform="translate(470.20,270.70) scale(0.872,1)" font-size="6.00" fill="#000" >-1</text>
<text transform="translate(347.41,213.60) scale(0.969,1)" font-size="10.60" fill="#000" >Film</text>
<text transform="translate(347.43,229.60) scale(0.952,1)" font-size="10.60" fill="#000" >Bulk</text>
<text stroke-width="0" transform="translate(381.50,159.70) scale(1.074,1)" font-size="8.60" fill="#000" >ν(-BH</text>
<text stroke-width="0" transform="translate(405.58,162.40) scale(1.133,1)" font-size="5.50" fill="#000" >2</text>
<text stroke-width="0" transform="translate(409.29,161.50) scale(1.112,1)" font-size="8.60" fill="#000" >)</text>
<text transform="translate(360.10,103.02) rotate(-90) scale(1.349,1)" font-size="8.88" stroke-width="0.35">2923</text>
<text transform="translate(396.85,143.02) rotate(-90) scale(1.350,1)" font-size="8.88" stroke-width="0.35">2389</text>
<text transform="translate(405.70,122.42) rotate(-90) scale(1.375,1)" font-size="8.88" stroke-width="0.35">2285</text>
<text transform="translate(463.00,143.06) rotate(-90) scale(1.353,1)" font-size="8.88" stroke-width="0.35">1498</text>
<text transform="translate(470.00,169.91) rotate(-90) scale(1.278,1)" font-size="8.88" stroke-width="0.35">1399</text>
<text transform="translate(477.50,168.97) rotate(-90) scale(1.383,1)" font-size="8.88" stroke-width="0.35">1293</text>
<text transform="translate(501.00,159.61) rotate(-90) scale(1.339,1)" font-size="8.88" stroke-width="0.35">975</text>
<text transform="translate(508.50,191.88) rotate(-90) scale(1.332,1)" font-size="8.88" stroke-width="0.35">878</text>
<text transform="translate(525.70,207.12) rotate(-90) scale(1.301,1)" font-size="8.88" stroke-width="0.35">638</text>
<text transform="translate(486.80,234.86) rotate(-90) scale(1.343,1)" font-size="9.01" stroke-width="0.35">1154</text>
<text transform="translate(497.00,234.84) rotate(-90) scale(1.331,1)" font-size="8.88" stroke-width="0.35">1049</text>
<text transform="translate(517.70,238.77) rotate(-90) scale(1.480,1)" font-size="9.01" stroke-width="0.35">747</text>
</g>
</svg>
</body></html>
